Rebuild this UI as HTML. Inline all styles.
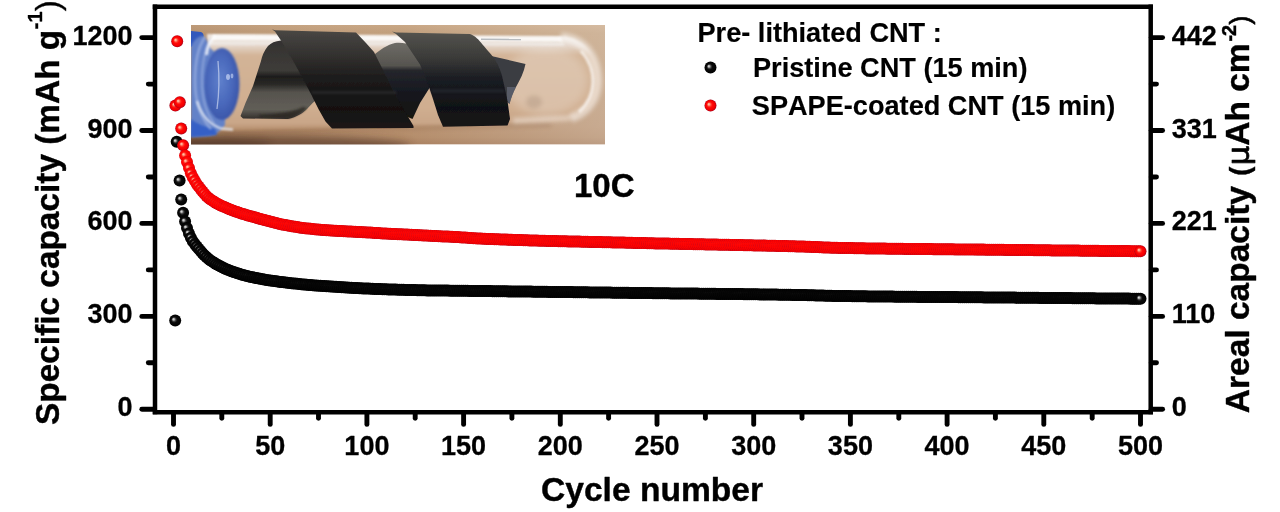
<!DOCTYPE html>
<html lang="en"><head><meta charset="utf-8"><title>Cycle performance</title>
<style>
html,body{margin:0;padding:0;background:#fff}
body{width:1280px;height:512px;overflow:hidden;position:relative}
svg{position:absolute;left:0;top:0;display:block}
text{font-family:"Liberation Sans",sans-serif;font-weight:bold;fill:#000;stroke:#000;stroke-width:0.4px;stroke-linejoin:round}
.ax line{stroke:#000;stroke-width:4.9;stroke-linecap:round}
.ax line.fr{stroke-width:4.5;stroke-linecap:square}
.tk text{font-size:27px;stroke-width:0.3px}
.lg text{font-size:27.15px;stroke-width:0.15px;font-kerning:none}
.tt{font-size:33.4px}
</style></head><body>
<svg width="1280" height="512" viewBox="0 0 1280 512">
<defs>
<radialGradient id="gk" cx="0.5" cy="0.5" r="0.5" fx="0.34" fy="0.38">
<stop offset="0" stop-color="#e4e4e4"/><stop offset="0.15" stop-color="#b4b4b4"/><stop offset="0.33" stop-color="#3c3c3c"/><stop offset="0.5" stop-color="#0a0a0a"/><stop offset="1" stop-color="#000"/>
</radialGradient>
<radialGradient id="gr" cx="0.5" cy="0.5" r="0.5" fx="0.34" fy="0.38">
<stop offset="0" stop-color="#ffd2b4"/><stop offset="0.15" stop-color="#ffa088"/><stop offset="0.33" stop-color="#ff3a2a"/><stop offset="0.5" stop-color="#ff0a0a"/><stop offset="0.9" stop-color="#fa0000"/><stop offset="1" stop-color="#c40010"/>
</radialGradient>
<radialGradient id="gr1" cx="0.5" cy="0.5" r="0.5" fx="0.34" fy="0.38">
<stop offset="0" stop-color="#ffd2b4"/><stop offset="0.15" stop-color="#ffa088"/><stop offset="0.33" stop-color="#ff3a2a"/><stop offset="0.5" stop-color="#ff0808"/><stop offset="0.78" stop-color="#f40000"/><stop offset="0.92" stop-color="#cc0010"/><stop offset="1" stop-color="#a00018"/>
</radialGradient>
</defs>
<rect width="1280" height="512" fill="#fff"/>
<defs>
<clipPath id="pc"><rect x="0" y="0" width="414" height="119.6"/></clipPath>
<linearGradient id="pbg" x1="0" y1="0" x2="0" y2="1">
<stop offset="0" stop-color="#c6a380"/><stop offset="0.07" stop-color="#bf9b77"/><stop offset="0.85" stop-color="#b58d6a"/><stop offset="0.94" stop-color="#b08763"/><stop offset="1" stop-color="#a57a58"/>
</linearGradient>
<linearGradient id="pbr" x1="0" y1="0" x2="1" y2="0">
<stop offset="0" stop-color="#6a4630" stop-opacity="0.10"/><stop offset="0.5" stop-color="#fff" stop-opacity="0.04"/><stop offset="1" stop-color="#fff" stop-opacity="0.26"/>
</linearGradient>
<linearGradient id="ptube" x1="0" y1="0" x2="0" y2="1">
<stop offset="0" stop-color="#efe9e4"/><stop offset="0.12" stop-color="#e4d6ca"/><stop offset="0.22" stop-color="#d3b497"/><stop offset="0.75" stop-color="#d0ae90"/><stop offset="0.92" stop-color="#c9a688"/><stop offset="1" stop-color="#b48c6a"/>
</linearGradient>
<linearGradient id="pf1" x1="0" y1="0" x2="0" y2="1">
<stop offset="0" stop-color="#4a4845"/><stop offset="0.25" stop-color="#343230"/><stop offset="0.5" stop-color="#1c1b1b"/><stop offset="0.8" stop-color="#121111"/><stop offset="1" stop-color="#1d1815"/>
</linearGradient>
<linearGradient id="pf2" x1="0" y1="0" x2="0" y2="1">
<stop offset="0" stop-color="#55544f"/><stop offset="0.28" stop-color="#3a3a38"/><stop offset="0.5" stop-color="#1a1c22"/><stop offset="0.8" stop-color="#101116"/><stop offset="1" stop-color="#181414"/>
</linearGradient>
<linearGradient id="pb1" x1="0" y1="0" x2="0" y2="1">
<stop offset="0" stop-color="#343230"/><stop offset="0.38" stop-color="#3e3c39"/><stop offset="0.46" stop-color="#1e1d1c"/><stop offset="0.56" stop-color="#2a2927"/><stop offset="0.66" stop-color="#56534e"/><stop offset="0.88" stop-color="#615e57"/><stop offset="1" stop-color="#322e2a"/>
</linearGradient>
<linearGradient id="pb2" x1="0" y1="0" x2="0" y2="1">
<stop offset="0" stop-color="#6e6c66"/><stop offset="0.3" stop-color="#56544f"/><stop offset="0.36" stop-color="#25262c"/><stop offset="0.7" stop-color="#14161d"/><stop offset="1" stop-color="#17130f"/>
</linearGradient>
<radialGradient id="pblue" cx="0.45" cy="0.45" r="0.6">
<stop offset="0" stop-color="#5f80cc"/><stop offset="0.55" stop-color="#4a69bc"/><stop offset="1" stop-color="#3752a6"/>
</radialGradient>
<filter id="b05" filterUnits="userSpaceOnUse" x="-30" y="-30" width="480" height="190"><feGaussianBlur stdDeviation="0.5"/></filter>
<filter id="b1" filterUnits="userSpaceOnUse" x="-30" y="-30" width="480" height="190"><feGaussianBlur stdDeviation="1"/></filter>
<filter id="b2" filterUnits="userSpaceOnUse" x="-30" y="-30" width="480" height="190"><feGaussianBlur stdDeviation="2"/></filter>
<filter id="b4" filterUnits="userSpaceOnUse" x="-30" y="-30" width="480" height="190"><feGaussianBlur stdDeviation="4"/></filter>
</defs>
<g transform="translate(191 25)" clip-path="url(#pc)">
<rect width="414" height="119.6" fill="url(#pbg)"/>
<rect width="414" height="119.6" fill="url(#pbr)"/>
<!-- dark table shadow bottom-left -->
<ellipse cx="70" cy="122" rx="150" ry="12" fill="#40261a" opacity="0.5" filter="url(#b4)"/>
<ellipse cx="20" cy="120" rx="60" ry="7" fill="#2e1a12" opacity="0.3" filter="url(#b4)"/>
<!-- tube body -->
<path d="M16 9 L370 11 C396 12 409 36 409 55 C409 76 394 96 366 97 L16 106 Z" fill="url(#ptube)" filter="url(#b1)"/>
<!-- under-tube contact shadow -->
<path d="M30 106.5 L360 99 L360 101.5 L30 109 Z" fill="#7a5236" opacity="0.3" filter="url(#b2)"/>
<!-- top glass highlights -->
<path d="M22 10 L370 12 L372 16.5 L22 15 Z" fill="#ffffff" opacity="0.78" filter="url(#b1)"/>
<path d="M20 16 L372 17.5 L374 21 L20 20 Z" fill="#f3f1ef" opacity="0.6" filter="url(#b1)"/>
<path d="M290 13.5 L330 13.8 L330 15.2 L290 15 Z" fill="#8c949c" opacity="0.6" filter="url(#b05)"/>
<!-- cap highlight -->
<path d="M370 12 C396 14 406 36 406.5 55 C406.5 74 396 88 380 93" fill="none" stroke="#fff" stroke-width="9" opacity="0.5" filter="url(#b2)"/>
<path d="M390 26 C399 36 402.5 46 402 58 C401.5 70 396 80 388 87" fill="none" stroke="#fff" stroke-width="3" opacity="0.6" filter="url(#b1)"/>
<!-- interior haze / small shadow blob -->
<path d="M322 93 L384 90 L378 96 L322 98.5 Z" fill="#fff" opacity="0.4" filter="url(#b2)"/>
<ellipse cx="343" cy="77" rx="8" ry="6.5" fill="#8f6e52" opacity="0.38" filter="url(#b2)"/>
<ellipse cx="355" cy="56" rx="42" ry="34" fill="#fff" opacity="0.22" filter="url(#b4)"/>
<!-- blue glove -->
<path d="M0 6 L10 7 C14 9 13 13 10 17 L0 22 Z" fill="#3058bc" filter="url(#b05)"/>
<path d="M0 22 C2 16 6 12 11 11 C15 12 17 17 19 23 L25 28 L34 40 L34 100 C30 106 24 110 18 111 L0 112 Z" fill="#6482c8" filter="url(#b1)"/>
<ellipse cx="31" cy="59" rx="17.5" ry="36" fill="url(#pblue)" filter="url(#b1)"/>
<path d="M0 94 C6 99 14 102 24 104 L26 110 L0 112 Z" fill="#3460c6" filter="url(#b1)"/>
<path d="M14 12 C7 22 4 38 4 56 C4 76 9 92 20 104" fill="none" stroke="#9fb3e2" stroke-width="2.6" opacity="0.7" filter="url(#b1)"/>
<path d="M20 14 C14 24 11 38 11 56 C11 74 15 88 23 98" fill="none" stroke="#aebfe8" stroke-width="1.6" opacity="0.6" filter="url(#b1)"/>
<path d="M24 11 C19 16 16 22 15.5 30" fill="none" stroke="#fff" stroke-width="3" opacity="0.8" filter="url(#b1)"/>
<path d="M27 36 C28.5 52 28.5 66 26 84" fill="none" stroke="#c4d0ee" stroke-width="1.3" opacity="0.75" filter="url(#b05)"/>
<path d="M6 76 C10 90 18 99 30 103.5 L42 104.5" fill="none" stroke="#e8ecf4" stroke-width="2.4" opacity="0.8" filter="url(#b1)"/>
<ellipse cx="37" cy="52" rx="2" ry="3" fill="#b9c9f0" opacity="0.8" filter="url(#b05)"/>
<ellipse cx="41" cy="51" rx="1.4" ry="2.4" fill="#b9c9f0" opacity="0.7" filter="url(#b05)"/>
<!-- back band 1 -->
<path d="M90 15.5 C84 16 80 18 77 21 C73 26 71 31 70 36 L62 61 L54.5 78 L49.5 91 L52 93.5 L97 94 C106 92 112 88 116 84 C119 81 121 78 124 76 L128 74 L116 52 L105.5 33 L95 15.5 Z" fill="url(#pb1)" filter="url(#b05)"/>
<path d="M68 92 L98 93 C106 91 112 87 116 83 L112 82 C104 86 90 89 68 90 Z" fill="#26231f" opacity="0.7" filter="url(#b1)"/>
<!-- back band 2 -->
<path d="M182 31 C188 25 197 19.5 204 18 C210 17.5 216 18 222 21 L234 39.5 L241 59 L229 78 L221.5 94 L212 90 L200 71 L188 47 Z" fill="url(#pb2)" filter="url(#b05)"/>
<!-- tail piece -->
<path d="M298 30.5 L334.5 39 C333 47 329 55 325 62 C322 68 320 73 318.5 79 L310 72 L305 48 Z" fill="#3a3c42" filter="url(#b05)"/>
<path d="M316 62 L325 62 C322 68 320 73 318.5 79 L316 76 Z" fill="#6a6f80" opacity="0.6" filter="url(#b05)"/>
<!-- front band 1 -->
<path d="M81 4.2 L84 5.2 L165 7.5 L175 18 L183 27 L193 47 L205 71 L216 90 L222.5 101 L222.5 103 L141 103.5 L134.5 96.5 L128 85 L121 71 L111 52 L100.5 33 L91 17 L84 6.5 Z" fill="url(#pf1)" filter="url(#b05)"/>
<!-- front band 2 -->
<path d="M201 6.4 L205 7.6 L279 9 C284 10.5 288 15 291.5 19.5 C297 26 301 30 304 34.5 C308 41 310.5 48 311.5 53 L313.5 62 L316.5 76 L319 94 L316.5 100.5 L252 101.8 L247 90 L242 74 L237 59 L229 39.5 L214 17 L205 9 Z" fill="url(#pf2)" filter="url(#b05)"/>
<!-- faint sheen lines on films -->
<path d="M120 66 L205 66 L206 69 L121 69 Z" fill="#3a3b3e" opacity="0.45" filter="url(#b1)"/>
<path d="M240 64 L313 64 L314 67.5 L241 67.5 Z" fill="#2c3038" opacity="0.5" filter="url(#b1)"/>
</g>

<g class="series"><circle cx="175.2" cy="320.5" r="6.0" fill="url(#gk)"/><circle cx="176.7" cy="141.8" r="6.0" fill="url(#gk)"/><circle cx="179.6" cy="180.6" r="6.0" fill="url(#gk)"/><circle cx="181.2" cy="199.4" r="6.0" fill="url(#gk)"/><circle cx="183.1" cy="212.8" r="6.0" fill="url(#gk)"/><circle cx="185.1" cy="221.4" r="6.0" fill="url(#gk)"/><circle cx="187.0" cy="228.1" r="6.0" fill="url(#gk)"/><circle cx="189.0" cy="233.4" r="6.0" fill="url(#gk)"/><circle cx="190.9" cy="237.8" r="6.0" fill="url(#gk)"/><circle cx="192.8" cy="241.3" r="6.0" fill="url(#gk)"/><circle cx="194.8" cy="244.1" r="6.0" fill="url(#gk)"/><circle cx="196.7" cy="246.6" r="6.0" fill="url(#gk)"/><circle cx="198.6" cy="248.8" r="6.0" fill="url(#gk)"/><circle cx="200.6" cy="251.0" r="6.0" fill="url(#gk)"/><circle cx="202.5" cy="253.2" r="6.0" fill="url(#gk)"/><circle cx="204.4" cy="255.2" r="6.0" fill="url(#gk)"/><circle cx="206.4" cy="257.1" r="6.0" fill="url(#gk)"/><circle cx="208.3" cy="258.7" r="6.0" fill="url(#gk)"/><circle cx="210.2" cy="260.2" r="6.0" fill="url(#gk)"/><circle cx="212.2" cy="261.5" r="6.0" fill="url(#gk)"/><circle cx="214.1" cy="262.7" r="6.0" fill="url(#gk)"/><circle cx="216.0" cy="263.9" r="6.0" fill="url(#gk)"/><circle cx="218.0" cy="265.0" r="6.0" fill="url(#gk)"/><circle cx="219.9" cy="266.0" r="6.0" fill="url(#gk)"/><circle cx="221.8" cy="267.0" r="6.0" fill="url(#gk)"/><circle cx="223.8" cy="268.0" r="6.0" fill="url(#gk)"/><circle cx="225.7" cy="268.9" r="6.0" fill="url(#gk)"/><circle cx="227.7" cy="269.7" r="6.0" fill="url(#gk)"/><circle cx="229.6" cy="270.5" r="6.0" fill="url(#gk)"/><circle cx="231.5" cy="271.3" r="6.0" fill="url(#gk)"/><circle cx="233.5" cy="272.0" r="6.0" fill="url(#gk)"/><circle cx="235.4" cy="272.6" r="6.0" fill="url(#gk)"/><circle cx="237.3" cy="273.3" r="6.0" fill="url(#gk)"/><circle cx="239.3" cy="273.8" r="6.0" fill="url(#gk)"/><circle cx="241.2" cy="274.4" r="6.0" fill="url(#gk)"/><circle cx="243.1" cy="275.0" r="6.0" fill="url(#gk)"/><circle cx="245.1" cy="275.5" r="6.0" fill="url(#gk)"/><circle cx="247.0" cy="276.0" r="6.0" fill="url(#gk)"/><circle cx="248.9" cy="276.4" r="6.0" fill="url(#gk)"/><circle cx="250.9" cy="276.9" r="6.0" fill="url(#gk)"/><circle cx="252.8" cy="277.3" r="6.0" fill="url(#gk)"/><circle cx="254.7" cy="277.7" r="6.0" fill="url(#gk)"/><circle cx="256.7" cy="278.1" r="6.0" fill="url(#gk)"/><circle cx="258.6" cy="278.5" r="6.0" fill="url(#gk)"/><circle cx="260.5" cy="278.8" r="6.0" fill="url(#gk)"/><circle cx="262.5" cy="279.2" r="6.0" fill="url(#gk)"/><circle cx="264.4" cy="279.5" r="6.0" fill="url(#gk)"/><circle cx="266.3" cy="279.9" r="6.0" fill="url(#gk)"/><circle cx="268.3" cy="280.2" r="6.0" fill="url(#gk)"/><circle cx="270.2" cy="280.5" r="6.0" fill="url(#gk)"/><circle cx="272.1" cy="280.8" r="6.0" fill="url(#gk)"/><circle cx="274.1" cy="281.1" r="6.0" fill="url(#gk)"/><circle cx="276.0" cy="281.3" r="6.0" fill="url(#gk)"/><circle cx="277.9" cy="281.6" r="6.0" fill="url(#gk)"/><circle cx="279.9" cy="281.9" r="6.0" fill="url(#gk)"/><circle cx="281.8" cy="282.1" r="6.0" fill="url(#gk)"/><circle cx="283.7" cy="282.3" r="6.0" fill="url(#gk)"/><circle cx="285.7" cy="282.6" r="6.0" fill="url(#gk)"/><circle cx="287.6" cy="282.8" r="6.0" fill="url(#gk)"/><circle cx="289.5" cy="283.0" r="6.0" fill="url(#gk)"/><circle cx="291.5" cy="283.2" r="6.0" fill="url(#gk)"/><circle cx="293.4" cy="283.4" r="6.0" fill="url(#gk)"/><circle cx="295.3" cy="283.6" r="6.0" fill="url(#gk)"/><circle cx="297.3" cy="283.8" r="6.0" fill="url(#gk)"/><circle cx="299.2" cy="284.0" r="6.0" fill="url(#gk)"/><circle cx="301.1" cy="284.2" r="6.0" fill="url(#gk)"/><circle cx="303.1" cy="284.4" r="6.0" fill="url(#gk)"/><circle cx="305.0" cy="284.6" r="6.0" fill="url(#gk)"/><circle cx="306.9" cy="284.7" r="6.0" fill="url(#gk)"/><circle cx="308.9" cy="284.9" r="6.0" fill="url(#gk)"/><circle cx="310.8" cy="285.1" r="6.0" fill="url(#gk)"/><circle cx="312.7" cy="285.2" r="6.0" fill="url(#gk)"/><circle cx="314.7" cy="285.4" r="6.0" fill="url(#gk)"/><circle cx="316.6" cy="285.5" r="6.0" fill="url(#gk)"/><circle cx="318.5" cy="285.7" r="6.0" fill="url(#gk)"/><circle cx="320.5" cy="285.8" r="6.0" fill="url(#gk)"/><circle cx="322.4" cy="285.9" r="6.0" fill="url(#gk)"/><circle cx="324.4" cy="286.1" r="6.0" fill="url(#gk)"/><circle cx="326.3" cy="286.2" r="6.0" fill="url(#gk)"/><circle cx="328.2" cy="286.3" r="6.0" fill="url(#gk)"/><circle cx="330.2" cy="286.4" r="6.0" fill="url(#gk)"/><circle cx="332.1" cy="286.6" r="6.0" fill="url(#gk)"/><circle cx="334.0" cy="286.7" r="6.0" fill="url(#gk)"/><circle cx="336.0" cy="286.8" r="6.0" fill="url(#gk)"/><circle cx="337.9" cy="286.9" r="6.0" fill="url(#gk)"/><circle cx="339.8" cy="287.1" r="6.0" fill="url(#gk)"/><circle cx="341.8" cy="287.2" r="6.0" fill="url(#gk)"/><circle cx="343.7" cy="287.3" r="6.0" fill="url(#gk)"/><circle cx="345.6" cy="287.4" r="6.0" fill="url(#gk)"/><circle cx="347.6" cy="287.6" r="6.0" fill="url(#gk)"/><circle cx="349.5" cy="287.7" r="6.0" fill="url(#gk)"/><circle cx="351.4" cy="287.8" r="6.0" fill="url(#gk)"/><circle cx="353.4" cy="287.9" r="6.0" fill="url(#gk)"/><circle cx="355.3" cy="288.0" r="6.0" fill="url(#gk)"/><circle cx="357.2" cy="288.1" r="6.0" fill="url(#gk)"/><circle cx="359.2" cy="288.2" r="6.0" fill="url(#gk)"/><circle cx="361.1" cy="288.3" r="6.0" fill="url(#gk)"/><circle cx="363.0" cy="288.4" r="6.0" fill="url(#gk)"/><circle cx="365.0" cy="288.5" r="6.0" fill="url(#gk)"/><circle cx="366.9" cy="288.6" r="6.0" fill="url(#gk)"/><circle cx="368.8" cy="288.6" r="6.0" fill="url(#gk)"/><circle cx="370.8" cy="288.7" r="6.0" fill="url(#gk)"/><circle cx="372.7" cy="288.8" r="6.0" fill="url(#gk)"/><circle cx="374.6" cy="288.9" r="6.0" fill="url(#gk)"/><circle cx="376.6" cy="288.9" r="6.0" fill="url(#gk)"/><circle cx="378.5" cy="289.0" r="6.0" fill="url(#gk)"/><circle cx="380.4" cy="289.1" r="6.0" fill="url(#gk)"/><circle cx="382.4" cy="289.2" r="6.0" fill="url(#gk)"/><circle cx="384.3" cy="289.2" r="6.0" fill="url(#gk)"/><circle cx="386.2" cy="289.3" r="6.0" fill="url(#gk)"/><circle cx="388.2" cy="289.4" r="6.0" fill="url(#gk)"/><circle cx="390.1" cy="289.4" r="6.0" fill="url(#gk)"/><circle cx="392.0" cy="289.5" r="6.0" fill="url(#gk)"/><circle cx="394.0" cy="289.5" r="6.0" fill="url(#gk)"/><circle cx="395.9" cy="289.6" r="6.0" fill="url(#gk)"/><circle cx="397.8" cy="289.7" r="6.0" fill="url(#gk)"/><circle cx="399.8" cy="289.7" r="6.0" fill="url(#gk)"/><circle cx="401.7" cy="289.8" r="6.0" fill="url(#gk)"/><circle cx="403.6" cy="289.8" r="6.0" fill="url(#gk)"/><circle cx="405.6" cy="289.9" r="6.0" fill="url(#gk)"/><circle cx="407.5" cy="289.9" r="6.0" fill="url(#gk)"/><circle cx="409.4" cy="290.0" r="6.0" fill="url(#gk)"/><circle cx="411.4" cy="290.0" r="6.0" fill="url(#gk)"/><circle cx="413.3" cy="290.1" r="6.0" fill="url(#gk)"/><circle cx="415.2" cy="290.1" r="6.0" fill="url(#gk)"/><circle cx="417.2" cy="290.2" r="6.0" fill="url(#gk)"/><circle cx="419.1" cy="290.2" r="6.0" fill="url(#gk)"/><circle cx="421.1" cy="290.3" r="6.0" fill="url(#gk)"/><circle cx="423.0" cy="290.3" r="6.0" fill="url(#gk)"/><circle cx="424.9" cy="290.3" r="6.0" fill="url(#gk)"/><circle cx="426.9" cy="290.4" r="6.0" fill="url(#gk)"/><circle cx="428.8" cy="290.4" r="6.0" fill="url(#gk)"/><circle cx="430.7" cy="290.4" r="6.0" fill="url(#gk)"/><circle cx="432.7" cy="290.5" r="6.0" fill="url(#gk)"/><circle cx="434.6" cy="290.5" r="6.0" fill="url(#gk)"/><circle cx="436.5" cy="290.5" r="6.0" fill="url(#gk)"/><circle cx="438.5" cy="290.5" r="6.0" fill="url(#gk)"/><circle cx="440.4" cy="290.6" r="6.0" fill="url(#gk)"/><circle cx="442.3" cy="290.6" r="6.0" fill="url(#gk)"/><circle cx="444.3" cy="290.6" r="6.0" fill="url(#gk)"/><circle cx="446.2" cy="290.6" r="6.0" fill="url(#gk)"/><circle cx="448.1" cy="290.6" r="6.0" fill="url(#gk)"/><circle cx="450.1" cy="290.7" r="6.0" fill="url(#gk)"/><circle cx="452.0" cy="290.7" r="6.0" fill="url(#gk)"/><circle cx="453.9" cy="290.7" r="6.0" fill="url(#gk)"/><circle cx="455.9" cy="290.7" r="6.0" fill="url(#gk)"/><circle cx="457.8" cy="290.7" r="6.0" fill="url(#gk)"/><circle cx="459.7" cy="290.7" r="6.0" fill="url(#gk)"/><circle cx="461.7" cy="290.8" r="6.0" fill="url(#gk)"/><circle cx="463.6" cy="290.8" r="6.0" fill="url(#gk)"/><circle cx="465.5" cy="290.8" r="6.0" fill="url(#gk)"/><circle cx="467.5" cy="290.8" r="6.0" fill="url(#gk)"/><circle cx="469.4" cy="290.9" r="6.0" fill="url(#gk)"/><circle cx="471.3" cy="290.9" r="6.0" fill="url(#gk)"/><circle cx="473.3" cy="290.9" r="6.0" fill="url(#gk)"/><circle cx="475.2" cy="290.9" r="6.0" fill="url(#gk)"/><circle cx="477.1" cy="291.0" r="6.0" fill="url(#gk)"/><circle cx="479.1" cy="291.0" r="6.0" fill="url(#gk)"/><circle cx="481.0" cy="291.0" r="6.0" fill="url(#gk)"/><circle cx="482.9" cy="291.0" r="6.0" fill="url(#gk)"/><circle cx="484.9" cy="291.1" r="6.0" fill="url(#gk)"/><circle cx="486.8" cy="291.1" r="6.0" fill="url(#gk)"/><circle cx="488.7" cy="291.1" r="6.0" fill="url(#gk)"/><circle cx="490.7" cy="291.1" r="6.0" fill="url(#gk)"/><circle cx="492.6" cy="291.2" r="6.0" fill="url(#gk)"/><circle cx="494.5" cy="291.2" r="6.0" fill="url(#gk)"/><circle cx="496.5" cy="291.2" r="6.0" fill="url(#gk)"/><circle cx="498.4" cy="291.2" r="6.0" fill="url(#gk)"/><circle cx="500.3" cy="291.3" r="6.0" fill="url(#gk)"/><circle cx="502.3" cy="291.3" r="6.0" fill="url(#gk)"/><circle cx="504.2" cy="291.3" r="6.0" fill="url(#gk)"/><circle cx="506.1" cy="291.3" r="6.0" fill="url(#gk)"/><circle cx="508.1" cy="291.4" r="6.0" fill="url(#gk)"/><circle cx="510.0" cy="291.4" r="6.0" fill="url(#gk)"/><circle cx="511.9" cy="291.4" r="6.0" fill="url(#gk)"/><circle cx="513.9" cy="291.4" r="6.0" fill="url(#gk)"/><circle cx="515.8" cy="291.4" r="6.0" fill="url(#gk)"/><circle cx="517.8" cy="291.5" r="6.0" fill="url(#gk)"/><circle cx="519.7" cy="291.5" r="6.0" fill="url(#gk)"/><circle cx="521.6" cy="291.5" r="6.0" fill="url(#gk)"/><circle cx="523.6" cy="291.5" r="6.0" fill="url(#gk)"/><circle cx="525.5" cy="291.6" r="6.0" fill="url(#gk)"/><circle cx="527.4" cy="291.6" r="6.0" fill="url(#gk)"/><circle cx="529.4" cy="291.6" r="6.0" fill="url(#gk)"/><circle cx="531.3" cy="291.6" r="6.0" fill="url(#gk)"/><circle cx="533.2" cy="291.7" r="6.0" fill="url(#gk)"/><circle cx="535.2" cy="291.7" r="6.0" fill="url(#gk)"/><circle cx="537.1" cy="291.7" r="6.0" fill="url(#gk)"/><circle cx="539.0" cy="291.7" r="6.0" fill="url(#gk)"/><circle cx="541.0" cy="291.8" r="6.0" fill="url(#gk)"/><circle cx="542.9" cy="291.8" r="6.0" fill="url(#gk)"/><circle cx="544.8" cy="291.8" r="6.0" fill="url(#gk)"/><circle cx="546.8" cy="291.8" r="6.0" fill="url(#gk)"/><circle cx="548.7" cy="291.9" r="6.0" fill="url(#gk)"/><circle cx="550.6" cy="291.9" r="6.0" fill="url(#gk)"/><circle cx="552.6" cy="291.9" r="6.0" fill="url(#gk)"/><circle cx="554.5" cy="291.9" r="6.0" fill="url(#gk)"/><circle cx="556.4" cy="292.0" r="6.0" fill="url(#gk)"/><circle cx="558.4" cy="292.0" r="6.0" fill="url(#gk)"/><circle cx="560.3" cy="292.0" r="6.0" fill="url(#gk)"/><circle cx="562.2" cy="292.0" r="6.0" fill="url(#gk)"/><circle cx="564.2" cy="292.1" r="6.0" fill="url(#gk)"/><circle cx="566.1" cy="292.1" r="6.0" fill="url(#gk)"/><circle cx="568.0" cy="292.1" r="6.0" fill="url(#gk)"/><circle cx="570.0" cy="292.1" r="6.0" fill="url(#gk)"/><circle cx="571.9" cy="292.1" r="6.0" fill="url(#gk)"/><circle cx="573.8" cy="292.2" r="6.0" fill="url(#gk)"/><circle cx="575.8" cy="292.2" r="6.0" fill="url(#gk)"/><circle cx="577.7" cy="292.2" r="6.0" fill="url(#gk)"/><circle cx="579.6" cy="292.2" r="6.0" fill="url(#gk)"/><circle cx="581.6" cy="292.3" r="6.0" fill="url(#gk)"/><circle cx="583.5" cy="292.3" r="6.0" fill="url(#gk)"/><circle cx="585.4" cy="292.3" r="6.0" fill="url(#gk)"/><circle cx="587.4" cy="292.3" r="6.0" fill="url(#gk)"/><circle cx="589.3" cy="292.4" r="6.0" fill="url(#gk)"/><circle cx="591.2" cy="292.4" r="6.0" fill="url(#gk)"/><circle cx="593.2" cy="292.4" r="6.0" fill="url(#gk)"/><circle cx="595.1" cy="292.4" r="6.0" fill="url(#gk)"/><circle cx="597.0" cy="292.5" r="6.0" fill="url(#gk)"/><circle cx="599.0" cy="292.5" r="6.0" fill="url(#gk)"/><circle cx="600.9" cy="292.5" r="6.0" fill="url(#gk)"/><circle cx="602.8" cy="292.5" r="6.0" fill="url(#gk)"/><circle cx="604.8" cy="292.6" r="6.0" fill="url(#gk)"/><circle cx="606.7" cy="292.6" r="6.0" fill="url(#gk)"/><circle cx="608.6" cy="292.6" r="6.0" fill="url(#gk)"/><circle cx="610.6" cy="292.6" r="6.0" fill="url(#gk)"/><circle cx="612.5" cy="292.7" r="6.0" fill="url(#gk)"/><circle cx="614.5" cy="292.7" r="6.0" fill="url(#gk)"/><circle cx="616.4" cy="292.7" r="6.0" fill="url(#gk)"/><circle cx="618.3" cy="292.7" r="6.0" fill="url(#gk)"/><circle cx="620.3" cy="292.8" r="6.0" fill="url(#gk)"/><circle cx="622.2" cy="292.8" r="6.0" fill="url(#gk)"/><circle cx="624.1" cy="292.8" r="6.0" fill="url(#gk)"/><circle cx="626.1" cy="292.8" r="6.0" fill="url(#gk)"/><circle cx="628.0" cy="292.8" r="6.0" fill="url(#gk)"/><circle cx="629.9" cy="292.9" r="6.0" fill="url(#gk)"/><circle cx="631.9" cy="292.9" r="6.0" fill="url(#gk)"/><circle cx="633.8" cy="292.9" r="6.0" fill="url(#gk)"/><circle cx="635.7" cy="292.9" r="6.0" fill="url(#gk)"/><circle cx="637.7" cy="293.0" r="6.0" fill="url(#gk)"/><circle cx="639.6" cy="293.0" r="6.0" fill="url(#gk)"/><circle cx="641.5" cy="293.0" r="6.0" fill="url(#gk)"/><circle cx="643.5" cy="293.0" r="6.0" fill="url(#gk)"/><circle cx="645.4" cy="293.1" r="6.0" fill="url(#gk)"/><circle cx="647.3" cy="293.1" r="6.0" fill="url(#gk)"/><circle cx="649.3" cy="293.1" r="6.0" fill="url(#gk)"/><circle cx="651.2" cy="293.1" r="6.0" fill="url(#gk)"/><circle cx="653.1" cy="293.2" r="6.0" fill="url(#gk)"/><circle cx="655.1" cy="293.2" r="6.0" fill="url(#gk)"/><circle cx="657.0" cy="293.2" r="6.0" fill="url(#gk)"/><circle cx="658.9" cy="293.2" r="6.0" fill="url(#gk)"/><circle cx="660.9" cy="293.2" r="6.0" fill="url(#gk)"/><circle cx="662.8" cy="293.3" r="6.0" fill="url(#gk)"/><circle cx="664.7" cy="293.3" r="6.0" fill="url(#gk)"/><circle cx="666.7" cy="293.3" r="6.0" fill="url(#gk)"/><circle cx="668.6" cy="293.3" r="6.0" fill="url(#gk)"/><circle cx="670.5" cy="293.4" r="6.0" fill="url(#gk)"/><circle cx="672.5" cy="293.4" r="6.0" fill="url(#gk)"/><circle cx="674.4" cy="293.4" r="6.0" fill="url(#gk)"/><circle cx="676.3" cy="293.4" r="6.0" fill="url(#gk)"/><circle cx="678.3" cy="293.4" r="6.0" fill="url(#gk)"/><circle cx="680.2" cy="293.5" r="6.0" fill="url(#gk)"/><circle cx="682.1" cy="293.5" r="6.0" fill="url(#gk)"/><circle cx="684.1" cy="293.5" r="6.0" fill="url(#gk)"/><circle cx="686.0" cy="293.5" r="6.0" fill="url(#gk)"/><circle cx="687.9" cy="293.5" r="6.0" fill="url(#gk)"/><circle cx="689.9" cy="293.6" r="6.0" fill="url(#gk)"/><circle cx="691.8" cy="293.6" r="6.0" fill="url(#gk)"/><circle cx="693.7" cy="293.6" r="6.0" fill="url(#gk)"/><circle cx="695.7" cy="293.6" r="6.0" fill="url(#gk)"/><circle cx="697.6" cy="293.6" r="6.0" fill="url(#gk)"/><circle cx="699.5" cy="293.7" r="6.0" fill="url(#gk)"/><circle cx="701.5" cy="293.7" r="6.0" fill="url(#gk)"/><circle cx="703.4" cy="293.7" r="6.0" fill="url(#gk)"/><circle cx="705.4" cy="293.7" r="6.0" fill="url(#gk)"/><circle cx="707.3" cy="293.8" r="6.0" fill="url(#gk)"/><circle cx="709.2" cy="293.8" r="6.0" fill="url(#gk)"/><circle cx="711.2" cy="293.8" r="6.0" fill="url(#gk)"/><circle cx="713.1" cy="293.8" r="6.0" fill="url(#gk)"/><circle cx="715.0" cy="293.8" r="6.0" fill="url(#gk)"/><circle cx="717.0" cy="293.9" r="6.0" fill="url(#gk)"/><circle cx="718.9" cy="293.9" r="6.0" fill="url(#gk)"/><circle cx="720.8" cy="293.9" r="6.0" fill="url(#gk)"/><circle cx="722.8" cy="293.9" r="6.0" fill="url(#gk)"/><circle cx="724.7" cy="293.9" r="6.0" fill="url(#gk)"/><circle cx="726.6" cy="294.0" r="6.0" fill="url(#gk)"/><circle cx="728.6" cy="294.0" r="6.0" fill="url(#gk)"/><circle cx="730.5" cy="294.0" r="6.0" fill="url(#gk)"/><circle cx="732.4" cy="294.0" r="6.0" fill="url(#gk)"/><circle cx="734.4" cy="294.1" r="6.0" fill="url(#gk)"/><circle cx="736.3" cy="294.1" r="6.0" fill="url(#gk)"/><circle cx="738.2" cy="294.1" r="6.0" fill="url(#gk)"/><circle cx="740.2" cy="294.1" r="6.0" fill="url(#gk)"/><circle cx="742.1" cy="294.1" r="6.0" fill="url(#gk)"/><circle cx="744.0" cy="294.2" r="6.0" fill="url(#gk)"/><circle cx="746.0" cy="294.2" r="6.0" fill="url(#gk)"/><circle cx="747.9" cy="294.2" r="6.0" fill="url(#gk)"/><circle cx="749.8" cy="294.2" r="6.0" fill="url(#gk)"/><circle cx="751.8" cy="294.3" r="6.0" fill="url(#gk)"/><circle cx="753.7" cy="294.3" r="6.0" fill="url(#gk)"/><circle cx="755.6" cy="294.3" r="6.0" fill="url(#gk)"/><circle cx="757.6" cy="294.3" r="6.0" fill="url(#gk)"/><circle cx="759.5" cy="294.4" r="6.0" fill="url(#gk)"/><circle cx="761.4" cy="294.4" r="6.0" fill="url(#gk)"/><circle cx="763.4" cy="294.4" r="6.0" fill="url(#gk)"/><circle cx="765.3" cy="294.5" r="6.0" fill="url(#gk)"/><circle cx="767.2" cy="294.5" r="6.0" fill="url(#gk)"/><circle cx="769.2" cy="294.5" r="6.0" fill="url(#gk)"/><circle cx="771.1" cy="294.5" r="6.0" fill="url(#gk)"/><circle cx="773.0" cy="294.6" r="6.0" fill="url(#gk)"/><circle cx="775.0" cy="294.6" r="6.0" fill="url(#gk)"/><circle cx="776.9" cy="294.6" r="6.0" fill="url(#gk)"/><circle cx="778.8" cy="294.7" r="6.0" fill="url(#gk)"/><circle cx="780.8" cy="294.7" r="6.0" fill="url(#gk)"/><circle cx="782.7" cy="294.7" r="6.0" fill="url(#gk)"/><circle cx="784.6" cy="294.7" r="6.0" fill="url(#gk)"/><circle cx="786.6" cy="294.8" r="6.0" fill="url(#gk)"/><circle cx="788.5" cy="294.8" r="6.0" fill="url(#gk)"/><circle cx="790.4" cy="294.8" r="6.0" fill="url(#gk)"/><circle cx="792.4" cy="294.9" r="6.0" fill="url(#gk)"/><circle cx="794.3" cy="294.9" r="6.0" fill="url(#gk)"/><circle cx="796.2" cy="294.9" r="6.0" fill="url(#gk)"/><circle cx="798.2" cy="295.0" r="6.0" fill="url(#gk)"/><circle cx="800.1" cy="295.0" r="6.0" fill="url(#gk)"/><circle cx="802.0" cy="295.0" r="6.0" fill="url(#gk)"/><circle cx="804.0" cy="295.1" r="6.0" fill="url(#gk)"/><circle cx="805.9" cy="295.1" r="6.0" fill="url(#gk)"/><circle cx="807.9" cy="295.2" r="6.0" fill="url(#gk)"/><circle cx="809.8" cy="295.2" r="6.0" fill="url(#gk)"/><circle cx="811.7" cy="295.3" r="6.0" fill="url(#gk)"/><circle cx="813.7" cy="295.3" r="6.0" fill="url(#gk)"/><circle cx="815.6" cy="295.4" r="6.0" fill="url(#gk)"/><circle cx="817.5" cy="295.4" r="6.0" fill="url(#gk)"/><circle cx="819.5" cy="295.5" r="6.0" fill="url(#gk)"/><circle cx="821.4" cy="295.6" r="6.0" fill="url(#gk)"/><circle cx="823.3" cy="295.6" r="6.0" fill="url(#gk)"/><circle cx="825.3" cy="295.7" r="6.0" fill="url(#gk)"/><circle cx="827.2" cy="295.7" r="6.0" fill="url(#gk)"/><circle cx="829.1" cy="295.8" r="6.0" fill="url(#gk)"/><circle cx="831.1" cy="295.8" r="6.0" fill="url(#gk)"/><circle cx="833.0" cy="295.9" r="6.0" fill="url(#gk)"/><circle cx="834.9" cy="295.9" r="6.0" fill="url(#gk)"/><circle cx="836.9" cy="295.9" r="6.0" fill="url(#gk)"/><circle cx="838.8" cy="296.0" r="6.0" fill="url(#gk)"/><circle cx="840.7" cy="296.0" r="6.0" fill="url(#gk)"/><circle cx="842.7" cy="296.0" r="6.0" fill="url(#gk)"/><circle cx="844.6" cy="296.1" r="6.0" fill="url(#gk)"/><circle cx="846.5" cy="296.1" r="6.0" fill="url(#gk)"/><circle cx="848.5" cy="296.1" r="6.0" fill="url(#gk)"/><circle cx="850.4" cy="296.1" r="6.0" fill="url(#gk)"/><circle cx="852.3" cy="296.2" r="6.0" fill="url(#gk)"/><circle cx="854.3" cy="296.2" r="6.0" fill="url(#gk)"/><circle cx="856.2" cy="296.2" r="6.0" fill="url(#gk)"/><circle cx="858.1" cy="296.3" r="6.0" fill="url(#gk)"/><circle cx="860.1" cy="296.3" r="6.0" fill="url(#gk)"/><circle cx="862.0" cy="296.3" r="6.0" fill="url(#gk)"/><circle cx="863.9" cy="296.3" r="6.0" fill="url(#gk)"/><circle cx="865.9" cy="296.3" r="6.0" fill="url(#gk)"/><circle cx="867.8" cy="296.4" r="6.0" fill="url(#gk)"/><circle cx="869.7" cy="296.4" r="6.0" fill="url(#gk)"/><circle cx="871.7" cy="296.4" r="6.0" fill="url(#gk)"/><circle cx="873.6" cy="296.4" r="6.0" fill="url(#gk)"/><circle cx="875.5" cy="296.5" r="6.0" fill="url(#gk)"/><circle cx="877.5" cy="296.5" r="6.0" fill="url(#gk)"/><circle cx="879.4" cy="296.5" r="6.0" fill="url(#gk)"/><circle cx="881.3" cy="296.5" r="6.0" fill="url(#gk)"/><circle cx="883.3" cy="296.5" r="6.0" fill="url(#gk)"/><circle cx="885.2" cy="296.6" r="6.0" fill="url(#gk)"/><circle cx="887.1" cy="296.6" r="6.0" fill="url(#gk)"/><circle cx="889.1" cy="296.6" r="6.0" fill="url(#gk)"/><circle cx="891.0" cy="296.6" r="6.0" fill="url(#gk)"/><circle cx="892.9" cy="296.6" r="6.0" fill="url(#gk)"/><circle cx="894.9" cy="296.7" r="6.0" fill="url(#gk)"/><circle cx="896.8" cy="296.7" r="6.0" fill="url(#gk)"/><circle cx="898.8" cy="296.7" r="6.0" fill="url(#gk)"/><circle cx="900.7" cy="296.7" r="6.0" fill="url(#gk)"/><circle cx="902.6" cy="296.7" r="6.0" fill="url(#gk)"/><circle cx="904.6" cy="296.7" r="6.0" fill="url(#gk)"/><circle cx="906.5" cy="296.8" r="6.0" fill="url(#gk)"/><circle cx="908.4" cy="296.8" r="6.0" fill="url(#gk)"/><circle cx="910.4" cy="296.8" r="6.0" fill="url(#gk)"/><circle cx="912.3" cy="296.8" r="6.0" fill="url(#gk)"/><circle cx="914.2" cy="296.8" r="6.0" fill="url(#gk)"/><circle cx="916.2" cy="296.8" r="6.0" fill="url(#gk)"/><circle cx="918.1" cy="296.9" r="6.0" fill="url(#gk)"/><circle cx="920.0" cy="296.9" r="6.0" fill="url(#gk)"/><circle cx="922.0" cy="296.9" r="6.0" fill="url(#gk)"/><circle cx="923.9" cy="296.9" r="6.0" fill="url(#gk)"/><circle cx="925.8" cy="296.9" r="6.0" fill="url(#gk)"/><circle cx="927.8" cy="296.9" r="6.0" fill="url(#gk)"/><circle cx="929.7" cy="296.9" r="6.0" fill="url(#gk)"/><circle cx="931.6" cy="297.0" r="6.0" fill="url(#gk)"/><circle cx="933.6" cy="297.0" r="6.0" fill="url(#gk)"/><circle cx="935.5" cy="297.0" r="6.0" fill="url(#gk)"/><circle cx="937.4" cy="297.0" r="6.0" fill="url(#gk)"/><circle cx="939.4" cy="297.0" r="6.0" fill="url(#gk)"/><circle cx="941.3" cy="297.0" r="6.0" fill="url(#gk)"/><circle cx="943.2" cy="297.0" r="6.0" fill="url(#gk)"/><circle cx="945.2" cy="297.1" r="6.0" fill="url(#gk)"/><circle cx="947.1" cy="297.1" r="6.0" fill="url(#gk)"/><circle cx="949.0" cy="297.1" r="6.0" fill="url(#gk)"/><circle cx="951.0" cy="297.1" r="6.0" fill="url(#gk)"/><circle cx="952.9" cy="297.1" r="6.0" fill="url(#gk)"/><circle cx="954.8" cy="297.1" r="6.0" fill="url(#gk)"/><circle cx="956.8" cy="297.1" r="6.0" fill="url(#gk)"/><circle cx="958.7" cy="297.2" r="6.0" fill="url(#gk)"/><circle cx="960.6" cy="297.2" r="6.0" fill="url(#gk)"/><circle cx="962.6" cy="297.2" r="6.0" fill="url(#gk)"/><circle cx="964.5" cy="297.2" r="6.0" fill="url(#gk)"/><circle cx="966.4" cy="297.2" r="6.0" fill="url(#gk)"/><circle cx="968.4" cy="297.2" r="6.0" fill="url(#gk)"/><circle cx="970.3" cy="297.3" r="6.0" fill="url(#gk)"/><circle cx="972.2" cy="297.3" r="6.0" fill="url(#gk)"/><circle cx="974.2" cy="297.3" r="6.0" fill="url(#gk)"/><circle cx="976.1" cy="297.3" r="6.0" fill="url(#gk)"/><circle cx="978.0" cy="297.3" r="6.0" fill="url(#gk)"/><circle cx="980.0" cy="297.3" r="6.0" fill="url(#gk)"/><circle cx="981.9" cy="297.3" r="6.0" fill="url(#gk)"/><circle cx="983.8" cy="297.4" r="6.0" fill="url(#gk)"/><circle cx="985.8" cy="297.4" r="6.0" fill="url(#gk)"/><circle cx="987.7" cy="297.4" r="6.0" fill="url(#gk)"/><circle cx="989.6" cy="297.4" r="6.0" fill="url(#gk)"/><circle cx="991.6" cy="297.4" r="6.0" fill="url(#gk)"/><circle cx="993.5" cy="297.4" r="6.0" fill="url(#gk)"/><circle cx="995.4" cy="297.5" r="6.0" fill="url(#gk)"/><circle cx="997.4" cy="297.5" r="6.0" fill="url(#gk)"/><circle cx="999.3" cy="297.5" r="6.0" fill="url(#gk)"/><circle cx="1001.3" cy="297.5" r="6.0" fill="url(#gk)"/><circle cx="1003.2" cy="297.5" r="6.0" fill="url(#gk)"/><circle cx="1005.1" cy="297.5" r="6.0" fill="url(#gk)"/><circle cx="1007.1" cy="297.6" r="6.0" fill="url(#gk)"/><circle cx="1009.0" cy="297.6" r="6.0" fill="url(#gk)"/><circle cx="1010.9" cy="297.6" r="6.0" fill="url(#gk)"/><circle cx="1012.9" cy="297.6" r="6.0" fill="url(#gk)"/><circle cx="1014.8" cy="297.6" r="6.0" fill="url(#gk)"/><circle cx="1016.7" cy="297.7" r="6.0" fill="url(#gk)"/><circle cx="1018.7" cy="297.7" r="6.0" fill="url(#gk)"/><circle cx="1020.6" cy="297.7" r="6.0" fill="url(#gk)"/><circle cx="1022.5" cy="297.7" r="6.0" fill="url(#gk)"/><circle cx="1024.5" cy="297.7" r="6.0" fill="url(#gk)"/><circle cx="1026.4" cy="297.7" r="6.0" fill="url(#gk)"/><circle cx="1028.3" cy="297.8" r="6.0" fill="url(#gk)"/><circle cx="1030.3" cy="297.8" r="6.0" fill="url(#gk)"/><circle cx="1032.2" cy="297.8" r="6.0" fill="url(#gk)"/><circle cx="1034.1" cy="297.8" r="6.0" fill="url(#gk)"/><circle cx="1036.1" cy="297.8" r="6.0" fill="url(#gk)"/><circle cx="1038.0" cy="297.8" r="6.0" fill="url(#gk)"/><circle cx="1039.9" cy="297.9" r="6.0" fill="url(#gk)"/><circle cx="1041.9" cy="297.9" r="6.0" fill="url(#gk)"/><circle cx="1043.8" cy="297.9" r="6.0" fill="url(#gk)"/><circle cx="1045.7" cy="297.9" r="6.0" fill="url(#gk)"/><circle cx="1047.7" cy="297.9" r="6.0" fill="url(#gk)"/><circle cx="1049.6" cy="297.9" r="6.0" fill="url(#gk)"/><circle cx="1051.5" cy="298.0" r="6.0" fill="url(#gk)"/><circle cx="1053.5" cy="298.0" r="6.0" fill="url(#gk)"/><circle cx="1055.4" cy="298.0" r="6.0" fill="url(#gk)"/><circle cx="1057.3" cy="298.0" r="6.0" fill="url(#gk)"/><circle cx="1059.3" cy="298.0" r="6.0" fill="url(#gk)"/><circle cx="1061.2" cy="298.1" r="6.0" fill="url(#gk)"/><circle cx="1063.1" cy="298.1" r="6.0" fill="url(#gk)"/><circle cx="1065.1" cy="298.1" r="6.0" fill="url(#gk)"/><circle cx="1067.0" cy="298.1" r="6.0" fill="url(#gk)"/><circle cx="1068.9" cy="298.1" r="6.0" fill="url(#gk)"/><circle cx="1070.9" cy="298.1" r="6.0" fill="url(#gk)"/><circle cx="1072.8" cy="298.2" r="6.0" fill="url(#gk)"/><circle cx="1074.7" cy="298.2" r="6.0" fill="url(#gk)"/><circle cx="1076.7" cy="298.2" r="6.0" fill="url(#gk)"/><circle cx="1078.6" cy="298.2" r="6.0" fill="url(#gk)"/><circle cx="1080.5" cy="298.2" r="6.0" fill="url(#gk)"/><circle cx="1082.5" cy="298.2" r="6.0" fill="url(#gk)"/><circle cx="1084.4" cy="298.3" r="6.0" fill="url(#gk)"/><circle cx="1086.3" cy="298.3" r="6.0" fill="url(#gk)"/><circle cx="1088.3" cy="298.3" r="6.0" fill="url(#gk)"/><circle cx="1090.2" cy="298.3" r="6.0" fill="url(#gk)"/><circle cx="1092.2" cy="298.3" r="6.0" fill="url(#gk)"/><circle cx="1094.1" cy="298.3" r="6.0" fill="url(#gk)"/><circle cx="1096.0" cy="298.4" r="6.0" fill="url(#gk)"/><circle cx="1098.0" cy="298.4" r="6.0" fill="url(#gk)"/><circle cx="1099.9" cy="298.4" r="6.0" fill="url(#gk)"/><circle cx="1101.8" cy="298.4" r="6.0" fill="url(#gk)"/><circle cx="1103.8" cy="298.4" r="6.0" fill="url(#gk)"/><circle cx="1105.7" cy="298.4" r="6.0" fill="url(#gk)"/><circle cx="1107.6" cy="298.5" r="6.0" fill="url(#gk)"/><circle cx="1109.6" cy="298.5" r="6.0" fill="url(#gk)"/><circle cx="1111.5" cy="298.5" r="6.0" fill="url(#gk)"/><circle cx="1113.4" cy="298.5" r="6.0" fill="url(#gk)"/><circle cx="1115.4" cy="298.5" r="6.0" fill="url(#gk)"/><circle cx="1117.3" cy="298.5" r="6.0" fill="url(#gk)"/><circle cx="1119.2" cy="298.6" r="6.0" fill="url(#gk)"/><circle cx="1121.2" cy="298.6" r="6.0" fill="url(#gk)"/><circle cx="1123.1" cy="298.6" r="6.0" fill="url(#gk)"/><circle cx="1125.0" cy="298.6" r="6.0" fill="url(#gk)"/><circle cx="1127.0" cy="298.6" r="6.0" fill="url(#gk)"/><circle cx="1128.9" cy="298.6" r="6.0" fill="url(#gk)"/><circle cx="1130.8" cy="298.7" r="6.0" fill="url(#gk)"/><circle cx="1132.8" cy="298.7" r="6.0" fill="url(#gk)"/><circle cx="1134.7" cy="298.7" r="6.0" fill="url(#gk)"/><circle cx="1136.6" cy="298.7" r="6.0" fill="url(#gk)"/><circle cx="1138.6" cy="298.7" r="6.0" fill="url(#gk)"/><circle cx="1140.5" cy="298.8" r="6.0" fill="url(#gk)"/></g>
<g class="series"><circle cx="175.4" cy="105.6" r="6.0" fill="url(#gr1)"/><circle cx="177.2" cy="41.2" r="6.0" fill="url(#gr1)"/><circle cx="179.8" cy="102.2" r="6.0" fill="url(#gr1)"/><circle cx="181.2" cy="128.5" r="6.0" fill="url(#gr1)"/><circle cx="183.1" cy="145.2" r="6.0" fill="url(#gr1)"/><circle cx="185.1" cy="155.6" r="6.0" fill="url(#gr)"/><circle cx="187.0" cy="162.0" r="6.0" fill="url(#gr)"/><circle cx="189.0" cy="168.1" r="6.0" fill="url(#gr)"/><circle cx="190.9" cy="173.3" r="6.0" fill="url(#gr)"/><circle cx="192.8" cy="177.2" r="6.0" fill="url(#gr)"/><circle cx="194.8" cy="180.7" r="6.0" fill="url(#gr)"/><circle cx="196.7" cy="183.9" r="6.0" fill="url(#gr)"/><circle cx="198.6" cy="186.6" r="6.0" fill="url(#gr)"/><circle cx="200.6" cy="189.1" r="6.0" fill="url(#gr)"/><circle cx="202.5" cy="191.6" r="6.0" fill="url(#gr)"/><circle cx="204.4" cy="193.8" r="6.0" fill="url(#gr)"/><circle cx="206.4" cy="195.9" r="6.0" fill="url(#gr)"/><circle cx="208.3" cy="197.7" r="6.0" fill="url(#gr)"/><circle cx="210.2" cy="199.2" r="6.0" fill="url(#gr)"/><circle cx="212.2" cy="200.5" r="6.0" fill="url(#gr)"/><circle cx="214.1" cy="201.7" r="6.0" fill="url(#gr)"/><circle cx="216.0" cy="202.9" r="6.0" fill="url(#gr)"/><circle cx="218.0" cy="203.9" r="6.0" fill="url(#gr)"/><circle cx="219.9" cy="204.9" r="6.0" fill="url(#gr)"/><circle cx="221.8" cy="205.9" r="6.0" fill="url(#gr)"/><circle cx="223.8" cy="206.8" r="6.0" fill="url(#gr)"/><circle cx="225.7" cy="207.6" r="6.0" fill="url(#gr)"/><circle cx="227.7" cy="208.4" r="6.0" fill="url(#gr)"/><circle cx="229.6" cy="209.2" r="6.0" fill="url(#gr)"/><circle cx="231.5" cy="209.9" r="6.0" fill="url(#gr)"/><circle cx="233.5" cy="210.7" r="6.0" fill="url(#gr)"/><circle cx="235.4" cy="211.4" r="6.0" fill="url(#gr)"/><circle cx="237.3" cy="212.1" r="6.0" fill="url(#gr)"/><circle cx="239.3" cy="212.8" r="6.0" fill="url(#gr)"/><circle cx="241.2" cy="213.4" r="6.0" fill="url(#gr)"/><circle cx="243.1" cy="214.0" r="6.0" fill="url(#gr)"/><circle cx="245.1" cy="214.6" r="6.0" fill="url(#gr)"/><circle cx="247.0" cy="215.2" r="6.0" fill="url(#gr)"/><circle cx="248.9" cy="215.7" r="6.0" fill="url(#gr)"/><circle cx="250.9" cy="216.3" r="6.0" fill="url(#gr)"/><circle cx="252.8" cy="216.8" r="6.0" fill="url(#gr)"/><circle cx="254.7" cy="217.3" r="6.0" fill="url(#gr)"/><circle cx="256.7" cy="217.8" r="6.0" fill="url(#gr)"/><circle cx="258.6" cy="218.4" r="6.0" fill="url(#gr)"/><circle cx="260.5" cy="218.9" r="6.0" fill="url(#gr)"/><circle cx="262.5" cy="219.4" r="6.0" fill="url(#gr)"/><circle cx="264.4" cy="220.0" r="6.0" fill="url(#gr)"/><circle cx="266.3" cy="220.5" r="6.0" fill="url(#gr)"/><circle cx="268.3" cy="221.0" r="6.0" fill="url(#gr)"/><circle cx="270.2" cy="221.5" r="6.0" fill="url(#gr)"/><circle cx="272.1" cy="222.0" r="6.0" fill="url(#gr)"/><circle cx="274.1" cy="222.5" r="6.0" fill="url(#gr)"/><circle cx="276.0" cy="223.0" r="6.0" fill="url(#gr)"/><circle cx="277.9" cy="223.5" r="6.0" fill="url(#gr)"/><circle cx="279.9" cy="223.9" r="6.0" fill="url(#gr)"/><circle cx="281.8" cy="224.4" r="6.0" fill="url(#gr)"/><circle cx="283.7" cy="224.8" r="6.0" fill="url(#gr)"/><circle cx="285.7" cy="225.1" r="6.0" fill="url(#gr)"/><circle cx="287.6" cy="225.5" r="6.0" fill="url(#gr)"/><circle cx="289.5" cy="225.8" r="6.0" fill="url(#gr)"/><circle cx="291.5" cy="226.2" r="6.0" fill="url(#gr)"/><circle cx="293.4" cy="226.5" r="6.0" fill="url(#gr)"/><circle cx="295.3" cy="226.8" r="6.0" fill="url(#gr)"/><circle cx="297.3" cy="227.1" r="6.0" fill="url(#gr)"/><circle cx="299.2" cy="227.4" r="6.0" fill="url(#gr)"/><circle cx="301.1" cy="227.7" r="6.0" fill="url(#gr)"/><circle cx="303.1" cy="227.9" r="6.0" fill="url(#gr)"/><circle cx="305.0" cy="228.2" r="6.0" fill="url(#gr)"/><circle cx="306.9" cy="228.4" r="6.0" fill="url(#gr)"/><circle cx="308.9" cy="228.6" r="6.0" fill="url(#gr)"/><circle cx="310.8" cy="228.8" r="6.0" fill="url(#gr)"/><circle cx="312.7" cy="229.0" r="6.0" fill="url(#gr)"/><circle cx="314.7" cy="229.2" r="6.0" fill="url(#gr)"/><circle cx="316.6" cy="229.4" r="6.0" fill="url(#gr)"/><circle cx="318.5" cy="229.6" r="6.0" fill="url(#gr)"/><circle cx="320.5" cy="229.7" r="6.0" fill="url(#gr)"/><circle cx="322.4" cy="229.9" r="6.0" fill="url(#gr)"/><circle cx="324.4" cy="230.0" r="6.0" fill="url(#gr)"/><circle cx="326.3" cy="230.2" r="6.0" fill="url(#gr)"/><circle cx="328.2" cy="230.3" r="6.0" fill="url(#gr)"/><circle cx="330.2" cy="230.4" r="6.0" fill="url(#gr)"/><circle cx="332.1" cy="230.6" r="6.0" fill="url(#gr)"/><circle cx="334.0" cy="230.7" r="6.0" fill="url(#gr)"/><circle cx="336.0" cy="230.8" r="6.0" fill="url(#gr)"/><circle cx="337.9" cy="230.9" r="6.0" fill="url(#gr)"/><circle cx="339.8" cy="231.0" r="6.0" fill="url(#gr)"/><circle cx="341.8" cy="231.1" r="6.0" fill="url(#gr)"/><circle cx="343.7" cy="231.2" r="6.0" fill="url(#gr)"/><circle cx="345.6" cy="231.3" r="6.0" fill="url(#gr)"/><circle cx="347.6" cy="231.4" r="6.0" fill="url(#gr)"/><circle cx="349.5" cy="231.5" r="6.0" fill="url(#gr)"/><circle cx="351.4" cy="231.6" r="6.0" fill="url(#gr)"/><circle cx="353.4" cy="231.7" r="6.0" fill="url(#gr)"/><circle cx="355.3" cy="231.8" r="6.0" fill="url(#gr)"/><circle cx="357.2" cy="231.9" r="6.0" fill="url(#gr)"/><circle cx="359.2" cy="232.0" r="6.0" fill="url(#gr)"/><circle cx="361.1" cy="232.1" r="6.0" fill="url(#gr)"/><circle cx="363.0" cy="232.2" r="6.0" fill="url(#gr)"/><circle cx="365.0" cy="232.3" r="6.0" fill="url(#gr)"/><circle cx="366.9" cy="232.4" r="6.0" fill="url(#gr)"/><circle cx="368.8" cy="232.5" r="6.0" fill="url(#gr)"/><circle cx="370.8" cy="232.6" r="6.0" fill="url(#gr)"/><circle cx="372.7" cy="232.8" r="6.0" fill="url(#gr)"/><circle cx="374.6" cy="232.9" r="6.0" fill="url(#gr)"/><circle cx="376.6" cy="233.0" r="6.0" fill="url(#gr)"/><circle cx="378.5" cy="233.1" r="6.0" fill="url(#gr)"/><circle cx="380.4" cy="233.2" r="6.0" fill="url(#gr)"/><circle cx="382.4" cy="233.4" r="6.0" fill="url(#gr)"/><circle cx="384.3" cy="233.5" r="6.0" fill="url(#gr)"/><circle cx="386.2" cy="233.6" r="6.0" fill="url(#gr)"/><circle cx="388.2" cy="233.7" r="6.0" fill="url(#gr)"/><circle cx="390.1" cy="233.8" r="6.0" fill="url(#gr)"/><circle cx="392.0" cy="233.9" r="6.0" fill="url(#gr)"/><circle cx="394.0" cy="234.0" r="6.0" fill="url(#gr)"/><circle cx="395.9" cy="234.1" r="6.0" fill="url(#gr)"/><circle cx="397.8" cy="234.2" r="6.0" fill="url(#gr)"/><circle cx="399.8" cy="234.3" r="6.0" fill="url(#gr)"/><circle cx="401.7" cy="234.3" r="6.0" fill="url(#gr)"/><circle cx="403.6" cy="234.4" r="6.0" fill="url(#gr)"/><circle cx="405.6" cy="234.5" r="6.0" fill="url(#gr)"/><circle cx="407.5" cy="234.6" r="6.0" fill="url(#gr)"/><circle cx="409.4" cy="234.7" r="6.0" fill="url(#gr)"/><circle cx="411.4" cy="234.8" r="6.0" fill="url(#gr)"/><circle cx="413.3" cy="234.9" r="6.0" fill="url(#gr)"/><circle cx="415.2" cy="235.0" r="6.0" fill="url(#gr)"/><circle cx="417.2" cy="235.1" r="6.0" fill="url(#gr)"/><circle cx="419.1" cy="235.2" r="6.0" fill="url(#gr)"/><circle cx="421.1" cy="235.3" r="6.0" fill="url(#gr)"/><circle cx="423.0" cy="235.4" r="6.0" fill="url(#gr)"/><circle cx="424.9" cy="235.5" r="6.0" fill="url(#gr)"/><circle cx="426.9" cy="235.6" r="6.0" fill="url(#gr)"/><circle cx="428.8" cy="235.7" r="6.0" fill="url(#gr)"/><circle cx="430.7" cy="235.8" r="6.0" fill="url(#gr)"/><circle cx="432.7" cy="235.9" r="6.0" fill="url(#gr)"/><circle cx="434.6" cy="236.0" r="6.0" fill="url(#gr)"/><circle cx="436.5" cy="236.1" r="6.0" fill="url(#gr)"/><circle cx="438.5" cy="236.2" r="6.0" fill="url(#gr)"/><circle cx="440.4" cy="236.3" r="6.0" fill="url(#gr)"/><circle cx="442.3" cy="236.4" r="6.0" fill="url(#gr)"/><circle cx="444.3" cy="236.4" r="6.0" fill="url(#gr)"/><circle cx="446.2" cy="236.5" r="6.0" fill="url(#gr)"/><circle cx="448.1" cy="236.6" r="6.0" fill="url(#gr)"/><circle cx="450.1" cy="236.7" r="6.0" fill="url(#gr)"/><circle cx="452.0" cy="236.8" r="6.0" fill="url(#gr)"/><circle cx="453.9" cy="236.9" r="6.0" fill="url(#gr)"/><circle cx="455.9" cy="237.0" r="6.0" fill="url(#gr)"/><circle cx="457.8" cy="237.1" r="6.0" fill="url(#gr)"/><circle cx="459.7" cy="237.2" r="6.0" fill="url(#gr)"/><circle cx="461.7" cy="237.4" r="6.0" fill="url(#gr)"/><circle cx="463.6" cy="237.5" r="6.0" fill="url(#gr)"/><circle cx="465.5" cy="237.6" r="6.0" fill="url(#gr)"/><circle cx="467.5" cy="237.8" r="6.0" fill="url(#gr)"/><circle cx="469.4" cy="237.9" r="6.0" fill="url(#gr)"/><circle cx="471.3" cy="238.1" r="6.0" fill="url(#gr)"/><circle cx="473.3" cy="238.2" r="6.0" fill="url(#gr)"/><circle cx="475.2" cy="238.3" r="6.0" fill="url(#gr)"/><circle cx="477.1" cy="238.5" r="6.0" fill="url(#gr)"/><circle cx="479.1" cy="238.6" r="6.0" fill="url(#gr)"/><circle cx="481.0" cy="238.6" r="6.0" fill="url(#gr)"/><circle cx="482.9" cy="238.7" r="6.0" fill="url(#gr)"/><circle cx="484.9" cy="238.8" r="6.0" fill="url(#gr)"/><circle cx="486.8" cy="238.9" r="6.0" fill="url(#gr)"/><circle cx="488.7" cy="239.0" r="6.0" fill="url(#gr)"/><circle cx="490.7" cy="239.0" r="6.0" fill="url(#gr)"/><circle cx="492.6" cy="239.1" r="6.0" fill="url(#gr)"/><circle cx="494.5" cy="239.2" r="6.0" fill="url(#gr)"/><circle cx="496.5" cy="239.3" r="6.0" fill="url(#gr)"/><circle cx="498.4" cy="239.3" r="6.0" fill="url(#gr)"/><circle cx="500.3" cy="239.4" r="6.0" fill="url(#gr)"/><circle cx="502.3" cy="239.5" r="6.0" fill="url(#gr)"/><circle cx="504.2" cy="239.6" r="6.0" fill="url(#gr)"/><circle cx="506.1" cy="239.6" r="6.0" fill="url(#gr)"/><circle cx="508.1" cy="239.7" r="6.0" fill="url(#gr)"/><circle cx="510.0" cy="239.8" r="6.0" fill="url(#gr)"/><circle cx="511.9" cy="239.8" r="6.0" fill="url(#gr)"/><circle cx="513.9" cy="239.9" r="6.0" fill="url(#gr)"/><circle cx="515.8" cy="240.0" r="6.0" fill="url(#gr)"/><circle cx="517.8" cy="240.0" r="6.0" fill="url(#gr)"/><circle cx="519.7" cy="240.1" r="6.0" fill="url(#gr)"/><circle cx="521.6" cy="240.1" r="6.0" fill="url(#gr)"/><circle cx="523.6" cy="240.2" r="6.0" fill="url(#gr)"/><circle cx="525.5" cy="240.3" r="6.0" fill="url(#gr)"/><circle cx="527.4" cy="240.3" r="6.0" fill="url(#gr)"/><circle cx="529.4" cy="240.4" r="6.0" fill="url(#gr)"/><circle cx="531.3" cy="240.4" r="6.0" fill="url(#gr)"/><circle cx="533.2" cy="240.5" r="6.0" fill="url(#gr)"/><circle cx="535.2" cy="240.5" r="6.0" fill="url(#gr)"/><circle cx="537.1" cy="240.6" r="6.0" fill="url(#gr)"/><circle cx="539.0" cy="240.7" r="6.0" fill="url(#gr)"/><circle cx="541.0" cy="240.7" r="6.0" fill="url(#gr)"/><circle cx="542.9" cy="240.8" r="6.0" fill="url(#gr)"/><circle cx="544.8" cy="240.8" r="6.0" fill="url(#gr)"/><circle cx="546.8" cy="240.9" r="6.0" fill="url(#gr)"/><circle cx="548.7" cy="240.9" r="6.0" fill="url(#gr)"/><circle cx="550.6" cy="241.0" r="6.0" fill="url(#gr)"/><circle cx="552.6" cy="241.0" r="6.0" fill="url(#gr)"/><circle cx="554.5" cy="241.1" r="6.0" fill="url(#gr)"/><circle cx="556.4" cy="241.1" r="6.0" fill="url(#gr)"/><circle cx="558.4" cy="241.2" r="6.0" fill="url(#gr)"/><circle cx="560.3" cy="241.2" r="6.0" fill="url(#gr)"/><circle cx="562.2" cy="241.2" r="6.0" fill="url(#gr)"/><circle cx="564.2" cy="241.3" r="6.0" fill="url(#gr)"/><circle cx="566.1" cy="241.3" r="6.0" fill="url(#gr)"/><circle cx="568.0" cy="241.4" r="6.0" fill="url(#gr)"/><circle cx="570.0" cy="241.4" r="6.0" fill="url(#gr)"/><circle cx="571.9" cy="241.5" r="6.0" fill="url(#gr)"/><circle cx="573.8" cy="241.5" r="6.0" fill="url(#gr)"/><circle cx="575.8" cy="241.6" r="6.0" fill="url(#gr)"/><circle cx="577.7" cy="241.6" r="6.0" fill="url(#gr)"/><circle cx="579.6" cy="241.6" r="6.0" fill="url(#gr)"/><circle cx="581.6" cy="241.7" r="6.0" fill="url(#gr)"/><circle cx="583.5" cy="241.7" r="6.0" fill="url(#gr)"/><circle cx="585.4" cy="241.8" r="6.0" fill="url(#gr)"/><circle cx="587.4" cy="241.8" r="6.0" fill="url(#gr)"/><circle cx="589.3" cy="241.9" r="6.0" fill="url(#gr)"/><circle cx="591.2" cy="241.9" r="6.0" fill="url(#gr)"/><circle cx="593.2" cy="241.9" r="6.0" fill="url(#gr)"/><circle cx="595.1" cy="242.0" r="6.0" fill="url(#gr)"/><circle cx="597.0" cy="242.0" r="6.0" fill="url(#gr)"/><circle cx="599.0" cy="242.1" r="6.0" fill="url(#gr)"/><circle cx="600.9" cy="242.1" r="6.0" fill="url(#gr)"/><circle cx="602.8" cy="242.2" r="6.0" fill="url(#gr)"/><circle cx="604.8" cy="242.2" r="6.0" fill="url(#gr)"/><circle cx="606.7" cy="242.2" r="6.0" fill="url(#gr)"/><circle cx="608.6" cy="242.3" r="6.0" fill="url(#gr)"/><circle cx="610.6" cy="242.3" r="6.0" fill="url(#gr)"/><circle cx="612.5" cy="242.4" r="6.0" fill="url(#gr)"/><circle cx="614.5" cy="242.4" r="6.0" fill="url(#gr)"/><circle cx="616.4" cy="242.5" r="6.0" fill="url(#gr)"/><circle cx="618.3" cy="242.5" r="6.0" fill="url(#gr)"/><circle cx="620.3" cy="242.5" r="6.0" fill="url(#gr)"/><circle cx="622.2" cy="242.6" r="6.0" fill="url(#gr)"/><circle cx="624.1" cy="242.6" r="6.0" fill="url(#gr)"/><circle cx="626.1" cy="242.7" r="6.0" fill="url(#gr)"/><circle cx="628.0" cy="242.7" r="6.0" fill="url(#gr)"/><circle cx="629.9" cy="242.8" r="6.0" fill="url(#gr)"/><circle cx="631.9" cy="242.8" r="6.0" fill="url(#gr)"/><circle cx="633.8" cy="242.9" r="6.0" fill="url(#gr)"/><circle cx="635.7" cy="242.9" r="6.0" fill="url(#gr)"/><circle cx="637.7" cy="242.9" r="6.0" fill="url(#gr)"/><circle cx="639.6" cy="243.0" r="6.0" fill="url(#gr)"/><circle cx="641.5" cy="243.0" r="6.0" fill="url(#gr)"/><circle cx="643.5" cy="243.1" r="6.0" fill="url(#gr)"/><circle cx="645.4" cy="243.1" r="6.0" fill="url(#gr)"/><circle cx="647.3" cy="243.2" r="6.0" fill="url(#gr)"/><circle cx="649.3" cy="243.2" r="6.0" fill="url(#gr)"/><circle cx="651.2" cy="243.3" r="6.0" fill="url(#gr)"/><circle cx="653.1" cy="243.3" r="6.0" fill="url(#gr)"/><circle cx="655.1" cy="243.4" r="6.0" fill="url(#gr)"/><circle cx="657.0" cy="243.4" r="6.0" fill="url(#gr)"/><circle cx="658.9" cy="243.4" r="6.0" fill="url(#gr)"/><circle cx="660.9" cy="243.5" r="6.0" fill="url(#gr)"/><circle cx="662.8" cy="243.5" r="6.0" fill="url(#gr)"/><circle cx="664.7" cy="243.6" r="6.0" fill="url(#gr)"/><circle cx="666.7" cy="243.6" r="6.0" fill="url(#gr)"/><circle cx="668.6" cy="243.6" r="6.0" fill="url(#gr)"/><circle cx="670.5" cy="243.7" r="6.0" fill="url(#gr)"/><circle cx="672.5" cy="243.7" r="6.0" fill="url(#gr)"/><circle cx="674.4" cy="243.8" r="6.0" fill="url(#gr)"/><circle cx="676.3" cy="243.8" r="6.0" fill="url(#gr)"/><circle cx="678.3" cy="243.8" r="6.0" fill="url(#gr)"/><circle cx="680.2" cy="243.9" r="6.0" fill="url(#gr)"/><circle cx="682.1" cy="243.9" r="6.0" fill="url(#gr)"/><circle cx="684.1" cy="244.0" r="6.0" fill="url(#gr)"/><circle cx="686.0" cy="244.0" r="6.0" fill="url(#gr)"/><circle cx="687.9" cy="244.0" r="6.0" fill="url(#gr)"/><circle cx="689.9" cy="244.1" r="6.0" fill="url(#gr)"/><circle cx="691.8" cy="244.1" r="6.0" fill="url(#gr)"/><circle cx="693.7" cy="244.2" r="6.0" fill="url(#gr)"/><circle cx="695.7" cy="244.2" r="6.0" fill="url(#gr)"/><circle cx="697.6" cy="244.2" r="6.0" fill="url(#gr)"/><circle cx="699.5" cy="244.3" r="6.0" fill="url(#gr)"/><circle cx="701.5" cy="244.3" r="6.0" fill="url(#gr)"/><circle cx="703.4" cy="244.3" r="6.0" fill="url(#gr)"/><circle cx="705.4" cy="244.4" r="6.0" fill="url(#gr)"/><circle cx="707.3" cy="244.4" r="6.0" fill="url(#gr)"/><circle cx="709.2" cy="244.5" r="6.0" fill="url(#gr)"/><circle cx="711.2" cy="244.5" r="6.0" fill="url(#gr)"/><circle cx="713.1" cy="244.5" r="6.0" fill="url(#gr)"/><circle cx="715.0" cy="244.6" r="6.0" fill="url(#gr)"/><circle cx="717.0" cy="244.6" r="6.0" fill="url(#gr)"/><circle cx="718.9" cy="244.7" r="6.0" fill="url(#gr)"/><circle cx="720.8" cy="244.7" r="6.0" fill="url(#gr)"/><circle cx="722.8" cy="244.7" r="6.0" fill="url(#gr)"/><circle cx="724.7" cy="244.8" r="6.0" fill="url(#gr)"/><circle cx="726.6" cy="244.8" r="6.0" fill="url(#gr)"/><circle cx="728.6" cy="244.8" r="6.0" fill="url(#gr)"/><circle cx="730.5" cy="244.9" r="6.0" fill="url(#gr)"/><circle cx="732.4" cy="244.9" r="6.0" fill="url(#gr)"/><circle cx="734.4" cy="245.0" r="6.0" fill="url(#gr)"/><circle cx="736.3" cy="245.0" r="6.0" fill="url(#gr)"/><circle cx="738.2" cy="245.0" r="6.0" fill="url(#gr)"/><circle cx="740.2" cy="245.1" r="6.0" fill="url(#gr)"/><circle cx="742.1" cy="245.1" r="6.0" fill="url(#gr)"/><circle cx="744.0" cy="245.2" r="6.0" fill="url(#gr)"/><circle cx="746.0" cy="245.2" r="6.0" fill="url(#gr)"/><circle cx="747.9" cy="245.2" r="6.0" fill="url(#gr)"/><circle cx="749.8" cy="245.3" r="6.0" fill="url(#gr)"/><circle cx="751.8" cy="245.3" r="6.0" fill="url(#gr)"/><circle cx="753.7" cy="245.4" r="6.0" fill="url(#gr)"/><circle cx="755.6" cy="245.4" r="6.0" fill="url(#gr)"/><circle cx="757.6" cy="245.4" r="6.0" fill="url(#gr)"/><circle cx="759.5" cy="245.5" r="6.0" fill="url(#gr)"/><circle cx="761.4" cy="245.5" r="6.0" fill="url(#gr)"/><circle cx="763.4" cy="245.6" r="6.0" fill="url(#gr)"/><circle cx="765.3" cy="245.6" r="6.0" fill="url(#gr)"/><circle cx="767.2" cy="245.7" r="6.0" fill="url(#gr)"/><circle cx="769.2" cy="245.7" r="6.0" fill="url(#gr)"/><circle cx="771.1" cy="245.8" r="6.0" fill="url(#gr)"/><circle cx="773.0" cy="245.8" r="6.0" fill="url(#gr)"/><circle cx="775.0" cy="245.8" r="6.0" fill="url(#gr)"/><circle cx="776.9" cy="245.9" r="6.0" fill="url(#gr)"/><circle cx="778.8" cy="245.9" r="6.0" fill="url(#gr)"/><circle cx="780.8" cy="246.0" r="6.0" fill="url(#gr)"/><circle cx="782.7" cy="246.0" r="6.0" fill="url(#gr)"/><circle cx="784.6" cy="246.1" r="6.0" fill="url(#gr)"/><circle cx="786.6" cy="246.1" r="6.0" fill="url(#gr)"/><circle cx="788.5" cy="246.2" r="6.0" fill="url(#gr)"/><circle cx="790.4" cy="246.2" r="6.0" fill="url(#gr)"/><circle cx="792.4" cy="246.3" r="6.0" fill="url(#gr)"/><circle cx="794.3" cy="246.3" r="6.0" fill="url(#gr)"/><circle cx="796.2" cy="246.4" r="6.0" fill="url(#gr)"/><circle cx="798.2" cy="246.4" r="6.0" fill="url(#gr)"/><circle cx="800.1" cy="246.5" r="6.0" fill="url(#gr)"/><circle cx="802.0" cy="246.6" r="6.0" fill="url(#gr)"/><circle cx="804.0" cy="246.6" r="6.0" fill="url(#gr)"/><circle cx="805.9" cy="246.7" r="6.0" fill="url(#gr)"/><circle cx="807.9" cy="246.8" r="6.0" fill="url(#gr)"/><circle cx="809.8" cy="246.8" r="6.0" fill="url(#gr)"/><circle cx="811.7" cy="246.9" r="6.0" fill="url(#gr)"/><circle cx="813.7" cy="247.0" r="6.0" fill="url(#gr)"/><circle cx="815.6" cy="247.1" r="6.0" fill="url(#gr)"/><circle cx="817.5" cy="247.1" r="6.0" fill="url(#gr)"/><circle cx="819.5" cy="247.2" r="6.0" fill="url(#gr)"/><circle cx="821.4" cy="247.3" r="6.0" fill="url(#gr)"/><circle cx="823.3" cy="247.4" r="6.0" fill="url(#gr)"/><circle cx="825.3" cy="247.5" r="6.0" fill="url(#gr)"/><circle cx="827.2" cy="247.5" r="6.0" fill="url(#gr)"/><circle cx="829.1" cy="247.6" r="6.0" fill="url(#gr)"/><circle cx="831.1" cy="247.7" r="6.0" fill="url(#gr)"/><circle cx="833.0" cy="247.7" r="6.0" fill="url(#gr)"/><circle cx="834.9" cy="247.8" r="6.0" fill="url(#gr)"/><circle cx="836.9" cy="247.8" r="6.0" fill="url(#gr)"/><circle cx="838.8" cy="247.9" r="6.0" fill="url(#gr)"/><circle cx="840.7" cy="247.9" r="6.0" fill="url(#gr)"/><circle cx="842.7" cy="248.0" r="6.0" fill="url(#gr)"/><circle cx="844.6" cy="248.0" r="6.0" fill="url(#gr)"/><circle cx="846.5" cy="248.0" r="6.0" fill="url(#gr)"/><circle cx="848.5" cy="248.1" r="6.0" fill="url(#gr)"/><circle cx="850.4" cy="248.1" r="6.0" fill="url(#gr)"/><circle cx="852.3" cy="248.1" r="6.0" fill="url(#gr)"/><circle cx="854.3" cy="248.2" r="6.0" fill="url(#gr)"/><circle cx="856.2" cy="248.2" r="6.0" fill="url(#gr)"/><circle cx="858.1" cy="248.2" r="6.0" fill="url(#gr)"/><circle cx="860.1" cy="248.3" r="6.0" fill="url(#gr)"/><circle cx="862.0" cy="248.3" r="6.0" fill="url(#gr)"/><circle cx="863.9" cy="248.3" r="6.0" fill="url(#gr)"/><circle cx="865.9" cy="248.4" r="6.0" fill="url(#gr)"/><circle cx="867.8" cy="248.4" r="6.0" fill="url(#gr)"/><circle cx="869.7" cy="248.4" r="6.0" fill="url(#gr)"/><circle cx="871.7" cy="248.4" r="6.0" fill="url(#gr)"/><circle cx="873.6" cy="248.5" r="6.0" fill="url(#gr)"/><circle cx="875.5" cy="248.5" r="6.0" fill="url(#gr)"/><circle cx="877.5" cy="248.5" r="6.0" fill="url(#gr)"/><circle cx="879.4" cy="248.5" r="6.0" fill="url(#gr)"/><circle cx="881.3" cy="248.6" r="6.0" fill="url(#gr)"/><circle cx="883.3" cy="248.6" r="6.0" fill="url(#gr)"/><circle cx="885.2" cy="248.6" r="6.0" fill="url(#gr)"/><circle cx="887.1" cy="248.7" r="6.0" fill="url(#gr)"/><circle cx="889.1" cy="248.7" r="6.0" fill="url(#gr)"/><circle cx="891.0" cy="248.7" r="6.0" fill="url(#gr)"/><circle cx="892.9" cy="248.7" r="6.0" fill="url(#gr)"/><circle cx="894.9" cy="248.7" r="6.0" fill="url(#gr)"/><circle cx="896.8" cy="248.8" r="6.0" fill="url(#gr)"/><circle cx="898.8" cy="248.8" r="6.0" fill="url(#gr)"/><circle cx="900.7" cy="248.8" r="6.0" fill="url(#gr)"/><circle cx="902.6" cy="248.8" r="6.0" fill="url(#gr)"/><circle cx="904.6" cy="248.9" r="6.0" fill="url(#gr)"/><circle cx="906.5" cy="248.9" r="6.0" fill="url(#gr)"/><circle cx="908.4" cy="248.9" r="6.0" fill="url(#gr)"/><circle cx="910.4" cy="248.9" r="6.0" fill="url(#gr)"/><circle cx="912.3" cy="248.9" r="6.0" fill="url(#gr)"/><circle cx="914.2" cy="249.0" r="6.0" fill="url(#gr)"/><circle cx="916.2" cy="249.0" r="6.0" fill="url(#gr)"/><circle cx="918.1" cy="249.0" r="6.0" fill="url(#gr)"/><circle cx="920.0" cy="249.0" r="6.0" fill="url(#gr)"/><circle cx="922.0" cy="249.0" r="6.0" fill="url(#gr)"/><circle cx="923.9" cy="249.1" r="6.0" fill="url(#gr)"/><circle cx="925.8" cy="249.1" r="6.0" fill="url(#gr)"/><circle cx="927.8" cy="249.1" r="6.0" fill="url(#gr)"/><circle cx="929.7" cy="249.1" r="6.0" fill="url(#gr)"/><circle cx="931.6" cy="249.1" r="6.0" fill="url(#gr)"/><circle cx="933.6" cy="249.2" r="6.0" fill="url(#gr)"/><circle cx="935.5" cy="249.2" r="6.0" fill="url(#gr)"/><circle cx="937.4" cy="249.2" r="6.0" fill="url(#gr)"/><circle cx="939.4" cy="249.2" r="6.0" fill="url(#gr)"/><circle cx="941.3" cy="249.2" r="6.0" fill="url(#gr)"/><circle cx="943.2" cy="249.2" r="6.0" fill="url(#gr)"/><circle cx="945.2" cy="249.3" r="6.0" fill="url(#gr)"/><circle cx="947.1" cy="249.3" r="6.0" fill="url(#gr)"/><circle cx="949.0" cy="249.3" r="6.0" fill="url(#gr)"/><circle cx="951.0" cy="249.3" r="6.0" fill="url(#gr)"/><circle cx="952.9" cy="249.3" r="6.0" fill="url(#gr)"/><circle cx="954.8" cy="249.4" r="6.0" fill="url(#gr)"/><circle cx="956.8" cy="249.4" r="6.0" fill="url(#gr)"/><circle cx="958.7" cy="249.4" r="6.0" fill="url(#gr)"/><circle cx="960.6" cy="249.4" r="6.0" fill="url(#gr)"/><circle cx="962.6" cy="249.4" r="6.0" fill="url(#gr)"/><circle cx="964.5" cy="249.4" r="6.0" fill="url(#gr)"/><circle cx="966.4" cy="249.5" r="6.0" fill="url(#gr)"/><circle cx="968.4" cy="249.5" r="6.0" fill="url(#gr)"/><circle cx="970.3" cy="249.5" r="6.0" fill="url(#gr)"/><circle cx="972.2" cy="249.5" r="6.0" fill="url(#gr)"/><circle cx="974.2" cy="249.5" r="6.0" fill="url(#gr)"/><circle cx="976.1" cy="249.6" r="6.0" fill="url(#gr)"/><circle cx="978.0" cy="249.6" r="6.0" fill="url(#gr)"/><circle cx="980.0" cy="249.6" r="6.0" fill="url(#gr)"/><circle cx="981.9" cy="249.6" r="6.0" fill="url(#gr)"/><circle cx="983.8" cy="249.6" r="6.0" fill="url(#gr)"/><circle cx="985.8" cy="249.7" r="6.0" fill="url(#gr)"/><circle cx="987.7" cy="249.7" r="6.0" fill="url(#gr)"/><circle cx="989.6" cy="249.7" r="6.0" fill="url(#gr)"/><circle cx="991.6" cy="249.7" r="6.0" fill="url(#gr)"/><circle cx="993.5" cy="249.7" r="6.0" fill="url(#gr)"/><circle cx="995.4" cy="249.8" r="6.0" fill="url(#gr)"/><circle cx="997.4" cy="249.8" r="6.0" fill="url(#gr)"/><circle cx="999.3" cy="249.8" r="6.0" fill="url(#gr)"/><circle cx="1001.3" cy="249.8" r="6.0" fill="url(#gr)"/><circle cx="1003.2" cy="249.8" r="6.0" fill="url(#gr)"/><circle cx="1005.1" cy="249.9" r="6.0" fill="url(#gr)"/><circle cx="1007.1" cy="249.9" r="6.0" fill="url(#gr)"/><circle cx="1009.0" cy="249.9" r="6.0" fill="url(#gr)"/><circle cx="1010.9" cy="249.9" r="6.0" fill="url(#gr)"/><circle cx="1012.9" cy="249.9" r="6.0" fill="url(#gr)"/><circle cx="1014.8" cy="250.0" r="6.0" fill="url(#gr)"/><circle cx="1016.7" cy="250.0" r="6.0" fill="url(#gr)"/><circle cx="1018.7" cy="250.0" r="6.0" fill="url(#gr)"/><circle cx="1020.6" cy="250.0" r="6.0" fill="url(#gr)"/><circle cx="1022.5" cy="250.0" r="6.0" fill="url(#gr)"/><circle cx="1024.5" cy="250.1" r="6.0" fill="url(#gr)"/><circle cx="1026.4" cy="250.1" r="6.0" fill="url(#gr)"/><circle cx="1028.3" cy="250.1" r="6.0" fill="url(#gr)"/><circle cx="1030.3" cy="250.1" r="6.0" fill="url(#gr)"/><circle cx="1032.2" cy="250.1" r="6.0" fill="url(#gr)"/><circle cx="1034.1" cy="250.2" r="6.0" fill="url(#gr)"/><circle cx="1036.1" cy="250.2" r="6.0" fill="url(#gr)"/><circle cx="1038.0" cy="250.2" r="6.0" fill="url(#gr)"/><circle cx="1039.9" cy="250.2" r="6.0" fill="url(#gr)"/><circle cx="1041.9" cy="250.3" r="6.0" fill="url(#gr)"/><circle cx="1043.8" cy="250.3" r="6.0" fill="url(#gr)"/><circle cx="1045.7" cy="250.3" r="6.0" fill="url(#gr)"/><circle cx="1047.7" cy="250.3" r="6.0" fill="url(#gr)"/><circle cx="1049.6" cy="250.3" r="6.0" fill="url(#gr)"/><circle cx="1051.5" cy="250.4" r="6.0" fill="url(#gr)"/><circle cx="1053.5" cy="250.4" r="6.0" fill="url(#gr)"/><circle cx="1055.4" cy="250.4" r="6.0" fill="url(#gr)"/><circle cx="1057.3" cy="250.4" r="6.0" fill="url(#gr)"/><circle cx="1059.3" cy="250.4" r="6.0" fill="url(#gr)"/><circle cx="1061.2" cy="250.5" r="6.0" fill="url(#gr)"/><circle cx="1063.1" cy="250.5" r="6.0" fill="url(#gr)"/><circle cx="1065.1" cy="250.5" r="6.0" fill="url(#gr)"/><circle cx="1067.0" cy="250.5" r="6.0" fill="url(#gr)"/><circle cx="1068.9" cy="250.5" r="6.0" fill="url(#gr)"/><circle cx="1070.9" cy="250.6" r="6.0" fill="url(#gr)"/><circle cx="1072.8" cy="250.6" r="6.0" fill="url(#gr)"/><circle cx="1074.7" cy="250.6" r="6.0" fill="url(#gr)"/><circle cx="1076.7" cy="250.6" r="6.0" fill="url(#gr)"/><circle cx="1078.6" cy="250.6" r="6.0" fill="url(#gr)"/><circle cx="1080.5" cy="250.7" r="6.0" fill="url(#gr)"/><circle cx="1082.5" cy="250.7" r="6.0" fill="url(#gr)"/><circle cx="1084.4" cy="250.7" r="6.0" fill="url(#gr)"/><circle cx="1086.3" cy="250.7" r="6.0" fill="url(#gr)"/><circle cx="1088.3" cy="250.7" r="6.0" fill="url(#gr)"/><circle cx="1090.2" cy="250.8" r="6.0" fill="url(#gr)"/><circle cx="1092.2" cy="250.8" r="6.0" fill="url(#gr)"/><circle cx="1094.1" cy="250.8" r="6.0" fill="url(#gr)"/><circle cx="1096.0" cy="250.8" r="6.0" fill="url(#gr)"/><circle cx="1098.0" cy="250.8" r="6.0" fill="url(#gr)"/><circle cx="1099.9" cy="250.9" r="6.0" fill="url(#gr)"/><circle cx="1101.8" cy="250.9" r="6.0" fill="url(#gr)"/><circle cx="1103.8" cy="250.9" r="6.0" fill="url(#gr)"/><circle cx="1105.7" cy="250.9" r="6.0" fill="url(#gr)"/><circle cx="1107.6" cy="250.9" r="6.0" fill="url(#gr)"/><circle cx="1109.6" cy="250.9" r="6.0" fill="url(#gr)"/><circle cx="1111.5" cy="251.0" r="6.0" fill="url(#gr)"/><circle cx="1113.4" cy="251.0" r="6.0" fill="url(#gr)"/><circle cx="1115.4" cy="251.0" r="6.0" fill="url(#gr)"/><circle cx="1117.3" cy="251.0" r="6.0" fill="url(#gr)"/><circle cx="1119.2" cy="251.0" r="6.0" fill="url(#gr)"/><circle cx="1121.2" cy="251.1" r="6.0" fill="url(#gr)"/><circle cx="1123.1" cy="251.1" r="6.0" fill="url(#gr)"/><circle cx="1125.0" cy="251.1" r="6.0" fill="url(#gr)"/><circle cx="1127.0" cy="251.1" r="6.0" fill="url(#gr)"/><circle cx="1128.9" cy="251.1" r="6.0" fill="url(#gr)"/><circle cx="1130.8" cy="251.2" r="6.0" fill="url(#gr)"/><circle cx="1132.8" cy="251.2" r="6.0" fill="url(#gr)"/><circle cx="1134.7" cy="251.2" r="6.0" fill="url(#gr)"/><circle cx="1136.6" cy="251.2" r="6.0" fill="url(#gr)"/><circle cx="1138.6" cy="251.2" r="6.0" fill="url(#gr)"/><circle cx="1140.5" cy="251.2" r="6.0" fill="url(#gr1)"/></g>
<g class="ax">
<line x1="155" y1="6.8" x2="155" y2="412" class="fr"/>
<line x1="1150.7" y1="6.8" x2="1150.7" y2="412" class="fr"/>
<line x1="155" y1="6.8" x2="1150.7" y2="6.8" class="fr"/>
<line x1="155" y1="412.2" x2="1150.7" y2="412.2" class="fr"/>
<line x1="141.8" y1="409.3" x2="154.5" y2="409.3"/><line x1="1151.2" y1="409.3" x2="1162.6" y2="409.3"/><line x1="141.8" y1="316.4" x2="154.5" y2="316.4"/><line x1="1151.2" y1="316.4" x2="1162.6" y2="316.4"/><line x1="141.8" y1="223.4" x2="154.5" y2="223.4"/><line x1="1151.2" y1="223.4" x2="1162.6" y2="223.4"/><line x1="141.8" y1="130.5" x2="154.5" y2="130.5"/><line x1="1151.2" y1="130.5" x2="1162.6" y2="130.5"/><line x1="141.8" y1="37.6" x2="154.5" y2="37.6"/><line x1="1151.2" y1="37.6" x2="1162.6" y2="37.6"/><line x1="148.3" y1="362.8" x2="154.5" y2="362.8"/><line x1="1151.2" y1="362.8" x2="1156.5" y2="362.8"/><line x1="148.3" y1="269.9" x2="154.5" y2="269.9"/><line x1="1151.2" y1="269.9" x2="1156.5" y2="269.9"/><line x1="148.3" y1="177.0" x2="154.5" y2="177.0"/><line x1="1151.2" y1="177.0" x2="1156.5" y2="177.0"/><line x1="148.3" y1="84.1" x2="154.5" y2="84.1"/><line x1="1151.2" y1="84.1" x2="1156.5" y2="84.1"/><line x1="173.5" y1="412.5" x2="173.5" y2="424.4"/><line x1="270.2" y1="412.5" x2="270.2" y2="424.4"/><line x1="366.9" y1="412.5" x2="366.9" y2="424.4"/><line x1="463.6" y1="412.5" x2="463.6" y2="424.4"/><line x1="560.3" y1="412.5" x2="560.3" y2="424.4"/><line x1="657.0" y1="412.5" x2="657.0" y2="424.4"/><line x1="753.7" y1="412.5" x2="753.7" y2="424.4"/><line x1="850.4" y1="412.5" x2="850.4" y2="424.4"/><line x1="947.1" y1="412.5" x2="947.1" y2="424.4"/><line x1="1043.8" y1="412.5" x2="1043.8" y2="424.4"/><line x1="1140.5" y1="412.5" x2="1140.5" y2="424.4"/><line x1="221.8" y1="412.5" x2="221.8" y2="418.3"/><line x1="318.5" y1="412.5" x2="318.5" y2="418.3"/><line x1="415.2" y1="412.5" x2="415.2" y2="418.3"/><line x1="511.9" y1="412.5" x2="511.9" y2="418.3"/><line x1="608.6" y1="412.5" x2="608.6" y2="418.3"/><line x1="705.4" y1="412.5" x2="705.4" y2="418.3"/><line x1="802.0" y1="412.5" x2="802.0" y2="418.3"/><line x1="898.8" y1="412.5" x2="898.8" y2="418.3"/><line x1="995.4" y1="412.5" x2="995.4" y2="418.3"/><line x1="1092.2" y1="412.5" x2="1092.2" y2="418.3"/>
</g>
<g class="tk"><text x="132.5" y="416.3" text-anchor="end">0</text><text x="132.5" y="323.4" text-anchor="end">300</text><text x="132.5" y="230.4" text-anchor="end">600</text><text x="132.5" y="137.5" text-anchor="end">900</text><text x="132.5" y="44.6" text-anchor="end">1200</text><text x="1171.8" y="416.3">0</text><text x="1171.8" y="323.4">110</text><text x="1171.8" y="230.4">221</text><text x="1171.8" y="137.5">331</text><text x="1171.8" y="44.6">442</text><text x="173.5" y="455.3" text-anchor="middle">0</text><text x="270.2" y="455.3" text-anchor="middle">50</text><text x="366.9" y="455.3" text-anchor="middle">100</text><text x="463.6" y="455.3" text-anchor="middle">150</text><text x="560.3" y="455.3" text-anchor="middle">200</text><text x="657.0" y="455.3" text-anchor="middle">250</text><text x="753.7" y="455.3" text-anchor="middle">300</text><text x="850.4" y="455.3" text-anchor="middle">350</text><text x="947.1" y="455.3" text-anchor="middle">400</text><text x="1043.8" y="455.3" text-anchor="middle">450</text><text x="1140.5" y="455.3" text-anchor="middle">500</text></g>
<g class="lg">
<text x="697.5" y="41.6">Pre- lithiated CNT :</text>
<circle cx="710.5" cy="67.5" r="6" fill="url(#gk)"/>
<text x="753" y="77">Pristine CNT (15 min)</text>
<circle cx="710.5" cy="105.5" r="6" fill="url(#gr1)"/>
<text x="751.8" y="115.3">SPAPE-coated CNT (15 min)</text>
</g>
<text class="tt" x="574" y="196.5" style="font-size:33px">10C</text>
<text class="tt" x="541" y="500.5" style="font-size:33.6px">Cycle number</text>
<text class="tt" transform="translate(59.2 425) rotate(-90)">Specific capacity (mAh g<tspan dy="-17.5" dx="0.6" style="font-size:20px">-1</tspan><tspan dy="17.5" style="font-weight:normal">)</tspan></text>
<text class="tt" style="font-size:33.5px" transform="translate(1248.7 413.2) rotate(-90)">Areal capacity <tspan dx="1" style="font-size:27.5px">(</tspan><tspan dx="1" style="font-family:'DejaVu Sans','Liberation Sans',sans-serif;font-weight:normal;font-size:31px;stroke:#000;stroke-width:0.7px">μ</tspan>Ah cm<tspan dy="-12.8" dx="2" style="font-size:20px;letter-spacing:-1.3px">-2</tspan><tspan dy="12.8" dx="1.5" style="font-size:27.5px;font-weight:normal;stroke:#000;stroke-width:0.6px">)</tspan></text>
</svg>
</body></html>
